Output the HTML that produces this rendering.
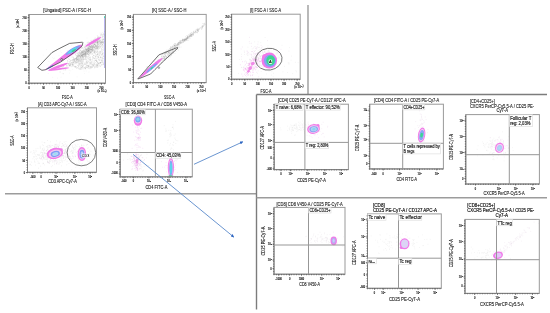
<!DOCTYPE html>
<html><head><meta charset="utf-8"><style>
html,body{margin:0;padding:0;background:#fff;}
body{width:550px;height:313px;overflow:hidden;}
svg{display:block;filter:blur(0.3px);font-family:'Liberation Sans', Arial, sans-serif;}
</style></head><body>
<svg width="550" height="313" viewBox="0 0 550 313">
<line x1="5.00" y1="193.80" x2="256.50" y2="193.80" stroke="#9c9c9c" stroke-width="1.4" />
<line x1="308.00" y1="5.00" x2="308.00" y2="94.50" stroke="#9c9c9c" stroke-width="1.4" />
<line x1="256.50" y1="94.50" x2="547.00" y2="94.50" stroke="#7c7c7c" stroke-width="1.4" />
<line x1="256.50" y1="94.50" x2="256.50" y2="309.50" stroke="#7c7c7c" stroke-width="1.4" />
<line x1="256.50" y1="197.80" x2="547.00" y2="197.80" stroke="#9c9c9c" stroke-width="1.4" />
<defs><filter id="b1" x="-50%" y="-50%" width="200%" height="200%"><feGaussianBlur stdDeviation="0.4"/></filter><filter id="b2" x="-50%" y="-50%" width="200%" height="200%"><feGaussianBlur stdDeviation="1.0"/></filter><filter id="b3" x="-50%" y="-50%" width="200%" height="200%"><feGaussianBlur stdDeviation="2.2"/></filter></defs>
<path d="M86.8 49.5h.01M82.7 64.0h.01M90.2 67.9h.01M88.4 50.5h.01M103.1 39.5h.01M98.8 47.1h.01M78.4 63.7h.01M90.6 49.7h.01M92.2 51.5h.01M78.6 56.4h.01M96.4 60.0h.01M86.4 65.6h.01M94.0 47.1h.01M103.3 41.7h.01M82.5 61.8h.01M95.3 56.1h.01M99.4 47.9h.01M92.7 56.7h.01M88.5 52.4h.01M84.5 58.9h.01M97.4 47.0h.01M81.3 59.1h.01M81.5 65.4h.01M87.3 65.8h.01M97.3 65.2h.01M80.3 65.9h.01M102.4 42.8h.01M80.7 55.8h.01M102.3 59.8h.01M86.1 57.5h.01M100.3 62.6h.01M99.4 63.1h.01M84.2 53.2h.01M97.7 43.1h.01M98.9 59.9h.01M73.2 62.3h.01M86.7 62.5h.01M98.5 63.4h.01M97.3 61.3h.01M76.6 59.8h.01M102.4 52.1h.01M102.3 49.5h.01M90.1 66.4h.01M98.1 53.1h.01M91.2 63.2h.01M100.7 62.6h.01M94.8 53.1h.01M73.6 62.9h.01M79.3 63.2h.01M103.0 50.5h.01M81.9 67.8h.01M100.5 63.4h.01M72.4 64.0h.01M103.3 58.7h.01M80.0 55.3h.01M102.9 58.5h.01M86.5 67.4h.01M83.1 65.5h.01M97.6 44.6h.01M71.8 66.7h.01M88.6 66.5h.01M82.6 66.9h.01M85.6 54.8h.01M93.8 55.5h.01M87.6 62.7h.01M95.6 54.0h.01M87.8 61.9h.01M100.8 52.0h.01M89.7 53.9h.01M85.9 59.8h.01M83.7 54.8h.01M84.7 67.7h.01M92.9 65.6h.01M101.9 46.2h.01M87.7 67.7h.01M98.1 42.3h.01M96.0 66.3h.01M72.7 60.6h.01M81.7 53.3h.01M103.6 64.2h.01M87.5 51.9h.01M90.1 54.1h.01M82.6 66.7h.01M97.3 46.1h.01M88.1 60.1h.01M92.5 51.4h.01M90.5 63.3h.01M70.1 65.0h.01M69.5 65.2h.01M87.5 67.2h.01M95.1 47.1h.01M94.1 55.4h.01M101.6 41.3h.01M97.3 51.6h.01M85.3 64.3h.01M81.5 54.0h.01M79.7 64.2h.01M93.1 58.0h.01M70.1 64.5h.01M99.2 59.1h.01M76.7 68.3h.01M103.0 55.2h.01M84.6 53.8h.01M88.7 54.7h.01M94.8 58.7h.01M93.5 65.7h.01M103.4 42.7h.01M93.8 58.3h.01M68.6 64.3h.01M100.0 57.8h.01M94.2 63.6h.01M85.7 64.3h.01M96.8 64.0h.01M88.6 66.1h.01M92.3 59.8h.01M70.9 64.3h.01M87.7 57.8h.01M90.2 59.4h.01M96.5 61.6h.01M85.6 54.9h.01M94.3 45.9h.01M94.0 44.5h.01M85.3 50.1h.01M84.7 59.5h.01M95.4 57.4h.01M94.5 47.6h.01M91.9 59.8h.01M92.0 47.2h.01M86.1 52.6h.01M100.1 44.3h.01M102.3 42.2h.01M97.3 54.0h.01M99.8 60.2h.01M75.6 66.3h.01M78.7 64.5h.01M98.0 41.8h.01M101.3 60.5h.01M100.4 47.1h.01M104.0 56.6h.01M70.8 64.3h.01M77.6 67.5h.01M80.8 68.1h.01M99.7 63.6h.01M90.3 66.8h.01M101.8 55.3h.01M94.1 52.2h.01M94.8 58.3h.01M101.3 42.0h.01M78.0 61.3h.01M103.1 46.2h.01M91.3 47.5h.01M87.6 50.4h.01M74.7 66.5h.01M88.1 65.9h.01M94.7 51.0h.01M82.3 54.5h.01M102.8 42.0h.01M85.6 57.8h.01M98.9 44.8h.01M81.8 52.0h.01M102.3 64.7h.01M100.1 52.9h.01M81.5 67.2h.01M97.5 64.9h.01M103.0 45.8h.01M86.3 59.5h.01M101.8 60.7h.01M91.0 62.1h.01M83.9 55.4h.01M75.6 67.0h.01M90.9 47.6h.01M90.5 60.0h.01M86.4 56.4h.01M102.5 58.3h.01M99.7 53.0h.01M102.5 60.2h.01M85.4 59.2h.01M91.7 67.1h.01M96.5 61.3h.01M102.9 47.8h.01M97.3 45.3h.01M75.2 62.0h.01M77.9 68.0h.01M91.6 67.9h.01M100.2 65.8h.01M101.5 48.4h.01M91.6 49.9h.01M102.4 41.9h.01M102.7 44.5h.01M80.2 63.9h.01M97.4 51.6h.01M80.8 67.0h.01M82.2 63.6h.01M101.0 46.1h.01M94.6 66.3h.01M102.4 57.4h.01M76.7 60.6h.01M100.9 58.0h.01M82.9 53.5h.01M101.3 43.8h.01M96.7 61.3h.01M97.4 62.3h.01M89.5 48.3h.01M74.3 61.7h.01M79.1 68.9h.01M93.3 52.1h.01M90.0 59.2h.01M94.7 64.7h.01M98.1 47.3h.01M88.0 49.7h.01M94.3 44.3h.01M72.7 65.9h.01M88.4 48.3h.01M81.7 69.3h.01M96.9 58.6h.01M103.7 41.2h.01M84.6 63.8h.01M98.1 66.8h.01M103.0 56.4h.01M101.4 49.7h.01M99.0 52.1h.01M76.6 62.5h.01M102.0 41.3h.01M89.1 57.5h.01M76.4 56.9h.01M96.4 55.3h.01M81.6 55.3h.01M73.1 59.9h.01M78.4 68.0h.01M78.6 55.8h.01M93.9 44.4h.01M82.7 63.8h.01M82.0 65.8h.01M90.7 66.7h.01M80.7 53.9h.01M86.3 67.2h.01M101.3 50.2h.01M100.5 57.5h.01M97.5 43.0h.01M96.1 45.0h.01M82.0 64.7h.01M97.7 43.8h.01M86.2 50.1h.01M93.8 66.3h.01M98.0 41.7h.01M89.2 55.3h.01M90.2 47.6h.01M82.5 56.4h.01M82.8 58.8h.01M83.5 51.8h.01M95.3 62.6h.01M94.1 62.5h.01M85.6 49.9h.01M102.2 42.3h.01M94.1 63.7h.01M85.2 68.1h.01M100.9 43.2h.01M96.2 67.3h.01M100.2 46.7h.01M97.2 42.5h.01M85.6 67.0h.01M92.1 66.2h.01M73.2 62.7h.01M90.5 49.3h.01M99.3 55.5h.01M88.5 65.8h.01M90.3 50.4h.01M96.5 46.3h.01M103.6 56.2h.01M80.3 62.1h.01M97.3 46.0h.01M88.7 58.9h.01M89.8 51.6h.01M86.0 66.2h.01M90.1 53.0h.01M99.2 62.6h.01M87.8 49.0h.01M90.9 52.0h.01M101.7 61.1h.01M76.2 66.5h.01M101.8 42.5h.01M85.8 58.2h.01M97.1 43.5h.01M96.0 60.5h.01M94.6 52.7h.01M94.4 52.3h.01M79.4 61.6h.01M92.7 64.6h.01M93.3 46.4h.01M87.5 51.7h.01M96.2 54.5h.01M76.8 58.2h.01M102.7 44.8h.01M94.5 67.8h.01M94.6 48.3h.01M99.6 48.3h.01M75.8 66.6h.01M90.3 59.8h.01M84.4 64.5h.01M92.8 65.0h.01M83.2 60.8h.01M88.1 47.7h.01M92.6 58.0h.01M92.8 61.2h.01M80.4 63.8h.01M97.3 66.1h.01M69.4 65.3h.01M98.4 63.6h.01M90.5 64.0h.01M90.4 47.1h.01M95.0 44.5h.01M77.5 60.5h.01M102.7 53.9h.01M98.5 57.5h.01M83.1 62.4h.01M79.8 60.2h.01M97.3 43.4h.01M85.2 63.1h.01M79.8 64.2h.01M76.6 67.7h.01M92.9 53.7h.01M70.0 62.8h.01M92.8 62.8h.01M90.2 49.2h.01M99.9 40.7h.01M100.3 53.8h.01M81.0 65.8h.01M86.7 61.8h.01M94.9 58.4h.01M72.7 64.6h.01M91.5 61.4h.01M95.6 56.2h.01M99.7 45.5h.01M93.0 64.6h.01M103.1 61.0h.01M103.4 63.0h.01M94.1 51.7h.01M81.8 62.9h.01M92.7 53.8h.01M90.4 52.6h.01M82.0 61.3h.01M100.6 51.5h.01M88.2 61.6h.01M93.7 65.7h.01M95.6 60.1h.01M98.5 59.4h.01M90.7 52.3h.01M78.6 57.8h.01M95.9 60.5h.01M82.7 52.3h.01M90.0 50.9h.01M92.0 67.3h.01M95.8 50.2h.01M85.1 68.7h.01M73.0 62.6h.01M101.8 54.4h.01M87.0 60.6h.01M86.0 58.1h.01M97.7 54.4h.01M82.2 67.9h.01M74.8 59.6h.01M81.5 62.0h.01M82.6 60.0h.01M75.3 61.4h.01M101.8 54.6h.01M75.1 63.2h.01M71.8 62.5h.01M97.0 58.0h.01M84.4 55.7h.01M80.1 58.1h.01M97.3 63.7h.01M97.8 49.2h.01M98.5 46.4h.01M82.9 58.1h.01M91.4 49.4h.01M101.4 64.9h.01M69.1 64.1h.01M100.5 62.7h.01M72.2 64.2h.01M91.3 45.9h.01M75.6 62.5h.01M100.5 62.9h.01M73.2 66.1h.01M89.5 62.6h.01M91.7 66.2h.01M96.2 64.4h.01M74.3 59.8h.01M86.6 61.4h.01M83.2 65.8h.01M85.2 53.7h.01M87.0 65.2h.01M84.3 55.7h.01M91.6 64.5h.01M102.5 40.4h.01M90.6 58.0h.01M92.3 67.3h.01M79.2 68.9h.01M85.9 53.3h.01M93.6 57.7h.01M79.5 65.1h.01M86.4 62.3h.01M82.6 55.5h.01M97.6 47.2h.01M97.6 50.7h.01M85.7 68.7h.01M91.2 62.9h.01M78.1 56.5h.01M90.5 62.7h.01M99.8 55.2h.01M101.1 57.2h.01M91.3 62.9h.01M100.7 57.3h.01M89.8 57.7h.01M92.8 56.8h.01M91.7 52.4h.01M95.7 66.8h.01M91.3 49.6h.01M97.4 62.8h.01M90.7 67.4h.01M97.0 56.1h.01M101.0 52.1h.01M88.9 67.5h.01M103.3 53.0h.01M70.3 65.4h.01M93.6 45.6h.01M93.4 64.9h.01M90.3 60.3h.01M84.0 67.4h.01M78.5 61.0h.01M73.1 65.1h.01M80.6 56.1h.01M83.2 59.3h.01M72.4 63.1h.01M80.4 58.3h.01M90.3 51.2h.01M81.3 62.8h.01M102.0 62.7h.01M93.0 64.1h.01M79.3 57.1h.01M103.2 64.2h.01M89.2 47.7h.01M82.9 66.0h.01M80.9 59.6h.01M89.3 66.2h.01M96.9 46.9h.01M82.6 56.5h.01M97.2 66.0h.01M68.6 64.2h.01M97.0 65.3h.01M98.5 63.4h.01M92.3 66.8h.01M87.5 63.1h.01M74.4 61.6h.01M101.5 45.4h.01M89.5 59.3h.01M76.4 61.7h.01M96.3 52.5h.01M70.2 63.4h.01M95.6 45.3h.01M88.4 66.3h.01M99.7 54.4h.01M84.6 56.6h.01M73.7 60.1h.01M80.4 55.8h.01M81.9 54.3h.01M103.9 49.8h.01M96.1 42.9h.01M89.1 48.9h.01M99.0 53.3h.01M95.8 51.4h.01M102.0 62.2h.01M87.6 65.4h.01M84.0 67.8h.01M100.7 40.0h.01M89.1 50.5h.01M90.7 68.1h.01M91.8 50.4h.01M100.4 66.5h.01M96.1 60.4h.01M94.9 67.6h.01M92.0 47.4h.01M88.9 61.9h.01M75.2 67.4h.01M99.1 66.0h.01M98.2 57.8h.01M97.5 53.0h.01M93.4 55.4h.01M72.4 65.4h.01M98.1 48.5h.01M78.8 66.4h.01M80.5 69.2h.01M93.9 47.2h.01M103.2 38.5h.01M96.9 48.7h.01M97.8 54.6h.01M100.7 44.9h.01M73.7 62.3h.01M89.5 53.6h.01M89.7 60.3h.01M97.0 56.4h.01M94.1 50.9h.01M97.0 48.6h.01M98.2 65.2h.01M100.7 53.0h.01M99.3 46.4h.01M73.9 64.2h.01M80.7 56.7h.01M83.5 54.2h.01M97.2 65.3h.01M78.9 60.4h.01M81.1 61.7h.01M69.3 65.5h.01M102.3 53.6h.01M86.0 54.7h.01M102.8 45.0h.01M76.3 63.7h.01M88.3 54.5h.01M99.2 60.6h.01M85.3 53.8h.01M88.9 65.1h.01M97.6 67.5h.01M98.1 54.6h.01M81.6 67.7h.01M95.7 48.7h.01M83.1 68.9h.01M96.8 66.8h.01M97.2 64.7h.01M90.4 49.5h.01M83.0 53.9h.01M102.9 62.5h.01M101.7 57.9h.01M96.9 65.9h.01M90.7 46.4h.01M92.1 46.6h.01M87.1 67.1h.01M86.3 51.7h.01M102.2 47.1h.01M78.3 58.4h.01M102.4 54.2h.01M98.1 57.2h.01M88.1 58.5h.01M74.4 60.4h.01M84.1 55.3h.01M89.7 52.8h.01M81.2 56.4h.01M98.9 45.5h.01M87.6 53.5h.01M77.9 62.3h.01M99.2 51.9h.01M83.3 61.2h.01M102.5 61.3h.01M80.0 59.3h.01M89.8 64.8h.01M97.4 54.3h.01M94.3 61.4h.01M95.1 53.0h.01M96.0 60.3h.01M100.8 42.0h.01M95.3 56.5h.01M85.4 68.3h.01M88.2 51.2h.01M96.0 65.5h.01M89.5 50.0h.01M83.7 52.4h.01M93.8 47.2h.01M81.5 55.5h.01M96.1 64.8h.01M85.5 52.0h.01M101.0 48.2h.01M98.2 64.4h.01M102.5 44.4h.01M82.8 66.7h.01M87.9 53.7h.01M101.1 62.4h.01M86.1 54.3h.01M92.4 50.3h.01M80.2 56.7h.01M80.0 67.9h.01M92.0 54.5h.01M81.8 55.7h.01M88.2 65.7h.01M102.7 53.3h.01M83.3 57.7h.01M103.9 48.8h.01M86.6 63.7h.01M103.2 64.0h.01M100.1 59.7h.01M99.9 51.3h.01M85.9 53.9h.01M90.3 57.0h.01M80.1 69.3h.01M82.2 62.8h.01M78.3 59.8h.01M98.2 56.5h.01M85.4 55.4h.01M76.8 58.4h.01M88.3 50.9h.01M86.3 63.9h.01M89.7 63.4h.01M95.5 48.2h.01M93.5 49.1h.01M88.5 49.0h.01M88.6 68.2h.01M83.3 57.5h.01M101.4 64.9h.01M78.6 66.3h.01M97.2 47.6h.01M89.3 68.2h.01M85.3 67.9h.01M93.6 45.0h.01M78.4 65.6h.01M84.9 63.0h.01M102.9 47.2h.01M86.7 50.1h.01M71.6 64.0h.01M91.6 48.8h.01M72.8 60.2h.01M97.9 42.0h.01M83.4 64.3h.01M96.8 43.0h.01M80.1 60.8h.01M80.9 68.2h.01M93.1 46.2h.01M100.3 56.5h.01M99.3 41.9h.01M86.0 55.1h.01M77.0 62.3h.01M81.2 58.7h.01M88.0 47.8h.01M73.6 64.8h.01M78.9 58.9h.01M80.4 53.8h.01M100.6 62.4h.01M99.7 65.1h.01M91.6 49.1h.01M82.3 58.8h.01M92.9 45.8h.01M98.3 49.1h.01M94.2 60.4h.01M98.1 56.0h.01M93.5 46.0h.01M83.1 59.6h.01M97.9 62.5h.01M98.6 57.1h.01M71.1 62.9h.01M74.8 66.8h.01M92.7 50.4h.01M94.7 64.1h.01M102.0 51.4h.01M101.4 59.8h.01" stroke="#8a8a8a" stroke-width="0.5" stroke-linecap="round" fill="none" opacity="0.42"/>
<path d="M83.1 48.2h.01M78.4 54.7h.01M102.1 42.0h.01M77.1 59.4h.01M91.3 47.3h.01M86.8 50.3h.01M79.4 51.2h.01M87.9 54.1h.01M100.4 40.8h.01M79.5 55.6h.01M96.1 45.6h.01M81.9 55.6h.01M85.7 53.4h.01M81.1 50.9h.01M88.6 52.1h.01M76.2 58.2h.01M94.9 44.4h.01M83.5 59.3h.01M96.3 47.4h.01M80.1 60.5h.01M70.4 61.1h.01M95.9 48.6h.01M77.2 56.0h.01M86.3 46.0h.01M93.9 47.8h.01M83.4 55.0h.01M94.8 46.4h.01M94.0 50.4h.01M82.7 54.5h.01M83.4 56.5h.01M83.7 54.6h.01M88.4 50.2h.01M103.2 39.4h.01M101.6 43.1h.01M99.3 41.9h.01M96.8 46.3h.01M81.5 55.6h.01M85.7 51.8h.01M98.4 41.0h.01M68.7 58.9h.01M81.8 52.8h.01M87.9 52.0h.01M104.1 39.9h.01M90.4 46.5h.01M94.3 49.7h.01M97.1 38.4h.01M97.5 48.1h.01M92.8 42.7h.01M84.9 54.1h.01M89.9 46.7h.01M79.8 58.7h.01M76.3 62.6h.01M87.6 51.4h.01M73.6 58.7h.01M91.6 43.6h.01M104.7 34.6h.01M75.5 59.2h.01M92.5 49.2h.01M83.2 53.1h.01M84.0 51.5h.01M63.9 69.9h.01M89.6 49.6h.01M81.4 55.6h.01M86.8 50.9h.01M95.2 40.4h.01M88.0 47.3h.01M86.0 55.9h.01M76.6 58.0h.01M82.7 56.7h.01M75.5 54.3h.01M91.4 46.9h.01M85.4 55.2h.01M78.1 56.2h.01M88.9 50.8h.01M83.5 56.4h.01M101.9 34.7h.01M99.8 41.1h.01M87.8 49.5h.01M79.3 52.8h.01M85.0 56.1h.01M97.3 42.8h.01M81.1 53.2h.01M78.1 62.3h.01M93.4 46.8h.01M81.0 52.3h.01M100.5 43.8h.01M79.3 59.2h.01M77.4 59.5h.01M77.4 56.6h.01M92.2 48.5h.01M95.4 42.7h.01M103.7 43.1h.01M87.5 51.9h.01M79.5 55.9h.01M74.7 59.9h.01M90.7 52.2h.01M97.0 46.3h.01M83.3 53.0h.01M84.1 53.7h.01M69.8 65.2h.01M71.5 60.4h.01M86.5 49.9h.01M102.6 39.8h.01M103.4 42.8h.01M82.8 55.0h.01M98.8 41.8h.01M87.1 49.4h.01M87.1 49.9h.01M89.1 52.3h.01M100.3 42.0h.01M90.0 51.3h.01M82.9 50.9h.01M96.2 41.9h.01M94.5 43.0h.01M102.9 36.9h.01M97.0 48.2h.01M79.9 60.2h.01M76.9 53.1h.01M94.7 47.6h.01M81.7 47.6h.01M86.1 50.8h.01M83.0 53.0h.01M69.4 61.8h.01M82.6 52.0h.01M92.1 50.4h.01M92.3 44.0h.01M88.7 50.2h.01M102.2 43.8h.01M93.6 49.8h.01M85.3 56.5h.01M83.5 54.6h.01M94.5 43.2h.01M78.1 52.3h.01M88.5 49.8h.01M84.6 54.1h.01M67.0 64.9h.01M87.5 49.9h.01M96.8 49.1h.01M81.6 52.2h.01M81.4 55.2h.01M91.4 45.5h.01M95.1 42.5h.01M95.4 46.3h.01M94.2 52.0h.01M84.3 52.4h.01M92.6 49.5h.01M74.7 60.4h.01M80.8 57.1h.01M100.0 42.0h.01M86.2 52.1h.01M60.1 72.0h.01M92.5 47.6h.01M82.3 52.2h.01M86.9 54.5h.01M87.8 54.2h.01M62.1 67.1h.01M89.6 49.2h.01M70.5 60.7h.01M97.1 40.3h.01M76.2 55.5h.01M82.6 55.9h.01M89.9 43.2h.01M100.0 40.2h.01M83.7 58.0h.01M84.6 49.2h.01M80.0 53.9h.01M77.0 57.0h.01M95.7 45.9h.01M77.7 65.4h.01M77.8 57.8h.01M88.3 52.2h.01M84.5 54.0h.01M77.2 58.8h.01M78.9 55.6h.01M89.2 50.4h.01M85.4 54.5h.01M83.5 49.8h.01M94.8 44.5h.01M97.6 41.7h.01M92.8 47.8h.01M59.6 66.0h.01M78.3 61.1h.01M70.4 65.2h.01M98.0 44.7h.01M92.7 45.6h.01M87.2 51.5h.01M91.9 49.6h.01M84.1 51.0h.01M82.2 55.5h.01M69.7 59.6h.01M82.4 52.7h.01M80.9 47.8h.01M83.5 52.8h.01M91.7 42.1h.01M84.7 53.9h.01M93.2 50.0h.01M95.6 42.0h.01M92.6 46.2h.01M81.4 59.2h.01M79.9 53.5h.01M82.0 52.1h.01M97.0 45.1h.01M100.8 42.5h.01M82.6 57.1h.01M80.2 54.5h.01M85.5 52.2h.01M97.5 41.9h.01M90.3 48.6h.01M73.6 57.3h.01M85.5 53.2h.01M90.7 49.8h.01M86.9 49.8h.01M89.7 46.3h.01M73.8 59.3h.01M72.8 59.5h.01M79.2 54.9h.01M85.5 49.8h.01M80.7 50.6h.01M87.2 48.4h.01M87.1 43.0h.01M79.7 56.8h.01M63.4 66.5h.01M88.0 50.6h.01M73.1 61.4h.01M87.1 48.2h.01M94.0 46.0h.01M86.6 50.0h.01M92.3 47.5h.01M98.4 44.3h.01M80.8 54.7h.01M95.2 44.2h.01M91.3 49.4h.01M82.2 47.8h.01M88.5 50.5h.01M87.3 48.7h.01M98.3 42.7h.01M80.1 53.8h.01M89.0 46.5h.01M80.2 61.5h.01M100.9 44.3h.01M100.8 43.0h.01M72.6 64.5h.01M99.4 43.7h.01M70.0 66.4h.01M99.3 41.0h.01M89.2 51.6h.01M87.7 53.7h.01M88.7 51.8h.01M85.8 47.6h.01M81.7 63.7h.01M91.4 51.6h.01M100.1 46.7h.01M91.5 46.2h.01M84.6 47.2h.01M86.4 54.0h.01M66.7 65.8h.01M96.6 48.0h.01M77.3 55.9h.01M67.8 61.6h.01M94.9 51.4h.01M77.9 61.3h.01M90.4 47.2h.01M104.6 31.5h.01M86.6 51.9h.01M98.2 47.0h.01M92.4 48.3h.01M84.7 51.4h.01M77.9 62.9h.01M80.0 50.0h.01M89.5 49.2h.01M91.1 53.3h.01M85.6 51.2h.01M79.8 56.0h.01M83.1 54.3h.01M81.4 60.4h.01M96.4 46.8h.01M94.9 47.8h.01M95.3 49.2h.01M98.4 46.8h.01M82.2 54.4h.01M81.3 57.7h.01M94.3 44.5h.01M96.1 52.1h.01M97.3 40.6h.01M87.0 52.8h.01M87.2 52.0h.01M98.7 43.7h.01M77.5 59.7h.01M86.2 51.9h.01M79.7 52.1h.01M74.6 58.7h.01M73.1 53.0h.01M96.4 41.1h.01M80.8 56.9h.01M65.7 69.7h.01M80.5 57.4h.01M82.8 54.8h.01M88.0 50.3h.01M67.5 60.4h.01M88.5 54.0h.01M82.5 55.7h.01M89.2 50.8h.01M94.5 41.5h.01M89.4 48.8h.01M82.9 51.5h.01M78.1 54.3h.01M79.9 63.2h.01M103.3 39.6h.01M92.8 44.2h.01M57.9 66.2h.01M90.3 52.8h.01M85.3 49.4h.01M83.3 50.7h.01M73.3 59.9h.01M82.1 52.1h.01M77.3 55.2h.01M91.1 52.1h.01M88.0 56.7h.01M71.9 62.4h.01M75.7 58.4h.01M88.7 51.4h.01M97.1 42.4h.01M74.8 59.0h.01M88.9 47.7h.01M97.8 48.2h.01M73.9 61.2h.01M94.2 40.5h.01M88.7 49.2h.01M75.1 63.1h.01M88.4 48.6h.01M92.1 49.3h.01M95.2 46.9h.01M89.3 46.0h.01M83.1 54.1h.01M63.3 73.7h.01M81.9 51.5h.01M69.9 63.7h.01M86.5 49.7h.01M81.8 52.1h.01M79.7 55.8h.01M81.7 56.6h.01M85.8 52.2h.01M92.6 50.7h.01M93.1 47.4h.01M84.4 50.6h.01M84.6 54.6h.01M88.6 48.7h.01M72.2 57.0h.01M91.5 50.8h.01M88.7 45.9h.01M85.3 52.9h.01M78.7 57.8h.01M84.0 50.7h.01M76.2 60.9h.01M89.2 46.9h.01M78.5 59.5h.01M92.3 46.4h.01M101.9 39.8h.01M78.3 60.2h.01M85.7 52.9h.01M86.0 48.8h.01M75.4 58.6h.01M99.1 39.7h.01M100.3 42.3h.01M76.7 59.0h.01M91.2 45.5h.01M67.1 66.0h.01M77.0 59.3h.01M68.5 63.5h.01M77.3 53.6h.01M84.9 52.9h.01M80.1 52.5h.01M86.7 46.2h.01M92.8 48.4h.01M104.2 41.5h.01M90.7 49.1h.01M85.5 48.3h.01M101.7 42.2h.01M82.7 50.7h.01M101.9 42.1h.01M76.6 60.2h.01M90.3 47.5h.01M82.4 57.3h.01M86.9 53.3h.01M85.1 54.4h.01M93.6 43.5h.01M76.7 58.0h.01M95.3 46.0h.01M97.0 40.1h.01M90.9 46.5h.01M88.4 50.9h.01M77.4 57.0h.01M76.3 59.3h.01M78.2 55.7h.01M88.2 48.3h.01M97.1 42.1h.01M95.5 45.9h.01M76.8 57.5h.01M78.5 55.9h.01M86.8 56.3h.01M85.1 56.8h.01M89.5 45.5h.01M65.9 67.7h.01M69.0 65.7h.01M97.3 44.9h.01M84.7 51.9h.01M89.1 48.7h.01M81.4 53.9h.01M97.3 42.0h.01M89.1 46.3h.01M78.4 53.1h.01M86.0 53.6h.01M89.3 48.0h.01M92.4 46.3h.01M90.9 49.0h.01M88.9 42.7h.01M75.6 61.2h.01M89.0 56.0h.01M84.0 51.5h.01M102.0 42.1h.01" stroke="#808080" stroke-width="0.5" stroke-linecap="round" fill="none" opacity="0.5"/>
<path d="M95.1 41.1h.01M90.5 42.2h.01M92.2 41.5h.01M100.9 35.9h.01M97.8 37.7h.01M100.1 33.0h.01M94.7 40.5h.01M89.5 44.9h.01M98.3 40.0h.01M102.8 36.4h.01M94.3 38.9h.01M94.2 39.9h.01M97.4 38.0h.01M103.5 34.3h.01M95.0 41.5h.01M95.2 38.2h.01M98.6 37.6h.01M82.5 47.9h.01M88.5 42.9h.01M99.4 37.9h.01M95.5 43.0h.01M98.4 37.2h.01M97.5 38.4h.01M80.4 46.6h.01M88.1 47.3h.01M94.6 39.9h.01M92.9 42.8h.01M97.3 41.2h.01M102.3 38.1h.01M95.5 40.4h.01M93.0 41.0h.01M84.2 45.8h.01M89.3 42.6h.01M104.2 34.9h.01M104.7 35.6h.01M102.7 36.9h.01M92.5 42.8h.01M93.5 40.2h.01M90.7 45.3h.01M100.9 35.3h.01M98.0 38.8h.01M98.3 37.6h.01M87.5 44.6h.01M102.2 36.9h.01M101.1 38.1h.01M89.4 43.4h.01M98.9 39.2h.01M97.4 39.4h.01M98.2 41.2h.01M81.6 48.1h.01M84.0 46.9h.01M86.1 44.5h.01M98.6 40.4h.01M99.5 38.4h.01M102.9 35.7h.01M90.3 42.8h.01M98.0 37.9h.01M91.4 41.8h.01M85.4 44.4h.01M95.2 39.5h.01M97.2 40.9h.01M98.0 38.3h.01M87.6 43.0h.01M97.9 37.1h.01M98.1 36.6h.01M96.8 38.9h.01M102.3 35.1h.01M93.7 41.2h.01M97.5 41.1h.01M94.0 39.9h.01M94.2 41.3h.01M98.0 39.3h.01M88.5 47.6h.01M88.1 44.5h.01M97.3 35.5h.01M95.1 37.9h.01M99.9 39.2h.01M101.8 33.8h.01M93.9 41.5h.01M95.5 39.0h.01M102.2 32.6h.01M104.7 32.8h.01M101.1 34.1h.01M89.4 42.6h.01M100.4 34.5h.01M99.6 36.4h.01M104.0 34.2h.01M99.1 37.4h.01M97.1 41.7h.01M97.0 39.9h.01M91.3 42.6h.01M81.1 48.6h.01M90.8 40.5h.01M87.4 46.3h.01M97.8 36.2h.01M93.7 41.2h.01M87.5 42.3h.01M91.8 43.7h.01M101.3 34.0h.01M104.0 34.8h.01M99.3 37.6h.01M98.1 36.8h.01M89.5 42.4h.01M94.0 41.6h.01M89.0 46.0h.01M91.4 41.4h.01M100.9 37.2h.01M93.1 39.7h.01M88.4 41.8h.01M104.2 36.1h.01M98.7 39.0h.01M102.1 35.5h.01M99.7 40.4h.01M83.9 44.7h.01M90.1 44.1h.01M103.6 34.4h.01M100.4 36.8h.01M97.6 37.7h.01M95.8 39.6h.01M104.9 37.4h.01M84.4 47.3h.01M96.6 40.6h.01M103.5 36.1h.01M100.7 35.3h.01M85.8 48.1h.01M103.4 33.7h.01M105.0 35.1h.01M80.4 50.2h.01M90.2 44.7h.01M91.0 41.4h.01M85.7 45.4h.01M102.3 34.7h.01M85.1 49.2h.01M91.7 40.3h.01M85.5 46.6h.01M103.9 33.2h.01M95.8 39.2h.01M94.6 41.1h.01M102.3 37.3h.01M94.0 40.5h.01" stroke="#b0b0b0" stroke-width="0.45" stroke-linecap="round" fill="none" opacity="0.4"/>
<path d="M61.0 77.2h.01M63.0 58.7h.01M69.1 53.1h.01M58.5 64.8h.01M88.5 48.4h.01M71.8 45.4h.01M60.7 51.1h.01M73.4 65.3h.01M48.0 65.0h.01M71.0 51.3h.01M85.5 61.9h.01M75.3 53.8h.01M68.7 55.6h.01M71.9 63.3h.01M72.7 69.3h.01M100.0 38.4h.01M79.6 63.9h.01M78.5 53.9h.01M70.8 70.8h.01M81.5 59.6h.01M65.3 70.2h.01M80.5 53.2h.01M89.0 72.0h.01M52.7 77.3h.01M52.4 57.6h.01M71.6 65.7h.01M67.5 50.9h.01M52.7 65.5h.01M68.5 53.7h.01M61.5 64.5h.01M63.0 59.3h.01M71.2 57.5h.01M74.1 46.9h.01M74.5 66.3h.01M88.3 56.2h.01M65.7 48.0h.01M57.5 78.2h.01M82.4 59.7h.01M43.2 55.2h.01M54.5 58.2h.01M69.4 51.2h.01M87.9 44.6h.01M69.2 70.3h.01M71.9 51.0h.01M90.0 69.0h.01M56.5 66.4h.01M50.9 52.6h.01M82.4 61.0h.01M85.3 56.6h.01M48.2 73.5h.01M59.0 55.6h.01M62.3 73.3h.01M77.1 76.9h.01M69.2 42.4h.01M88.0 63.4h.01M67.1 50.6h.01M87.1 38.0h.01M62.7 46.1h.01M49.8 55.7h.01M90.0 61.5h.01M61.3 52.5h.01M72.9 63.3h.01M48.9 61.6h.01M73.9 66.0h.01M74.9 62.9h.01M46.3 49.6h.01M71.7 50.9h.01M68.9 58.0h.01M74.3 50.9h.01M89.2 50.4h.01M81.0 61.2h.01M86.0 56.0h.01M48.5 67.2h.01M96.1 50.9h.01M80.7 59.7h.01M61.4 59.2h.01M69.4 73.2h.01M84.1 71.1h.01M86.2 71.0h.01M72.2 47.8h.01M94.1 50.7h.01M87.1 53.5h.01M68.9 63.5h.01M53.4 58.6h.01M59.1 62.1h.01M55.4 68.5h.01M84.6 73.4h.01M93.7 47.0h.01M81.6 52.2h.01M76.5 57.1h.01" stroke="#b4b4b4" stroke-width="0.45" stroke-linecap="round" fill="none" opacity="0.3"/>
<g filter="url(#b1)" opacity="1">
<polygon points="45.47,70.25 51.37,67.08 59.05,62.57 64.89,59.32 70.62,55.90 75.39,52.65 79.46,49.15 81.57,46.74 82.17,45.25 81.83,44.75 80.22,44.76 77.20,45.85 72.46,48.35 67.69,51.60 62.41,55.68 57.24,59.93 50.24,65.42 45.13,69.75" fill="#f07ae8"/>
<ellipse cx="93.2" cy="41.9" rx="9.4" ry="1.25" fill="#f07ae8" transform="rotate(-30.9 93.2 41.9)" />
<ellipse cx="58.2" cy="66.8" rx="10.5" ry="1.3" fill="#f07ae8" transform="rotate(-21 58.2 66.8)" />
<ellipse cx="58.8" cy="69.1" rx="10.5" ry="0.9" fill="#f07ae8" transform="rotate(-7 58.8 69.1)" />
<ellipse cx="72.75" cy="50.25" rx="8.5" ry="1.9" fill="#86a0f6" transform="rotate(-31 72.75 50.25)" />
<ellipse cx="50" cy="67.3" rx="4" ry="0.65" fill="#5a8ae8" transform="rotate(-31 50 67.3)" />
<ellipse cx="72.55" cy="50.25" rx="5.5" ry="1.2" fill="#58d8ea" transform="rotate(-34.7 72.55 50.25)" />
<ellipse cx="73.8" cy="50.5" rx="2.5" ry="0.8" fill="#3ad88e" transform="rotate(-33 73.8 50.5)" />
</g>
<line x1="104.90" y1="17.00" x2="104.90" y2="68.00" stroke="#8e86e6" stroke-width="1.0" />
<circle cx="104.9" cy="17" r="0.9" fill="#3ad8b0"/>
<path d="M177.6 44.7h.01M166.5 53.0h.01M180.0 41.7h.01M180.0 43.5h.01M176.1 46.2h.01M191.6 36.2h.01M170.9 49.2h.01M190.9 36.7h.01M187.5 38.3h.01M166.1 52.2h.01M203.8 25.5h.01M179.8 41.2h.01M191.8 34.7h.01M180.3 41.1h.01M183.5 41.4h.01M193.6 34.5h.01M194.4 32.5h.01M191.4 34.9h.01M168.8 52.7h.01M188.0 36.0h.01M188.8 36.9h.01M196.8 32.5h.01M147.6 66.6h.01M202.0 26.1h.01M161.7 56.2h.01M188.2 37.4h.01M170.4 49.2h.01M186.7 38.9h.01M175.5 43.5h.01M196.9 30.6h.01M182.2 40.2h.01M192.0 32.4h.01M185.4 39.2h.01M188.3 38.4h.01M182.9 40.9h.01M193.6 31.5h.01M180.5 42.6h.01M195.2 31.2h.01M193.9 33.3h.01M165.2 51.8h.01M166.7 52.5h.01M186.9 38.7h.01M193.7 32.5h.01M197.4 31.3h.01M190.0 36.3h.01M168.6 51.4h.01M170.9 48.1h.01M179.8 43.1h.01M183.2 40.2h.01M172.0 48.8h.01M174.3 45.4h.01M185.9 40.3h.01M178.5 42.7h.01M201.7 29.3h.01M180.3 42.4h.01M188.1 40.3h.01M186.1 39.6h.01M188.4 34.8h.01M170.0 48.7h.01M189.3 36.3h.01M205.6 24.3h.01M187.8 37.4h.01M186.9 40.5h.01M188.2 38.6h.01M199.5 28.3h.01M192.1 33.8h.01M185.4 39.2h.01M184.0 39.5h.01M202.8 26.3h.01M193.4 35.1h.01M192.2 35.3h.01M201.5 28.7h.01M204.2 24.0h.01M162.4 54.7h.01M167.0 52.1h.01M165.3 52.2h.01M187.7 37.5h.01M174.2 46.8h.01M182.8 40.9h.01M183.8 39.9h.01M193.9 31.2h.01M178.1 44.4h.01M178.8 43.1h.01M178.8 44.0h.01M199.1 29.0h.01M180.9 42.6h.01M180.0 40.7h.01M187.1 37.4h.01M177.3 45.4h.01M184.2 39.2h.01M156.5 57.7h.01M184.1 39.8h.01M189.5 36.4h.01M177.5 43.2h.01M170.6 49.4h.01M170.4 50.6h.01M166.9 50.2h.01M180.7 40.4h.01M203.3 25.1h.01M183.2 40.3h.01M173.1 45.8h.01M161.7 56.8h.01M197.6 32.7h.01M166.4 53.1h.01M184.3 40.7h.01M178.1 45.0h.01M195.3 32.6h.01M201.6 27.3h.01M202.5 26.0h.01M202.9 23.5h.01M183.7 39.3h.01M184.6 40.7h.01M192.8 33.8h.01M204.0 24.1h.01M174.8 48.2h.01M186.9 35.6h.01M187.5 36.2h.01M202.6 28.0h.01M178.0 45.7h.01M174.3 47.9h.01M191.0 34.9h.01M166.5 52.2h.01M155.7 59.5h.01M162.0 57.0h.01M170.9 46.6h.01M191.3 35.2h.01M178.9 46.0h.01M193.5 33.3h.01M174.6 43.5h.01M190.4 36.5h.01M176.0 44.1h.01M182.6 39.1h.01M184.5 40.5h.01M202.6 27.0h.01M186.8 38.8h.01M200.9 27.6h.01M168.6 50.1h.01M168.2 50.3h.01M182.7 41.3h.01M185.9 38.7h.01M179.9 43.4h.01M195.2 32.8h.01M202.1 26.7h.01M181.8 43.4h.01M186.7 38.6h.01M180.4 43.6h.01M178.6 42.8h.01M183.0 40.2h.01M194.0 32.5h.01M185.4 38.8h.01M187.8 36.6h.01M196.7 29.3h.01M178.9 42.8h.01M191.9 34.4h.01M189.7 35.5h.01M174.6 45.4h.01M179.6 42.5h.01M187.6 37.8h.01M195.9 31.4h.01M174.3 45.7h.01M184.9 39.7h.01M171.8 50.0h.01M198.6 31.1h.01M184.4 40.8h.01M178.1 44.1h.01M185.2 41.1h.01M181.9 42.6h.01M184.4 38.9h.01M187.3 38.4h.01M175.6 46.7h.01M174.8 45.6h.01M186.6 37.9h.01M171.1 47.4h.01M184.4 40.0h.01M178.5 44.1h.01M165.6 53.6h.01M189.2 36.6h.01M176.6 45.4h.01M186.1 39.7h.01M187.5 37.8h.01M175.6 46.9h.01M198.1 29.4h.01M192.0 34.7h.01M182.8 39.5h.01M204.5 23.3h.01M187.5 37.1h.01M197.8 29.7h.01M184.8 40.1h.01M189.3 35.6h.01M192.5 34.4h.01M195.8 31.0h.01M183.2 40.1h.01M173.9 47.5h.01M189.7 37.5h.01M180.2 43.1h.01M197.9 30.0h.01M184.8 39.5h.01M175.1 45.3h.01M197.7 30.4h.01M182.4 39.7h.01M186.0 39.8h.01M169.5 49.3h.01M198.2 31.4h.01M202.6 26.1h.01M190.9 34.2h.01M190.1 35.2h.01M187.1 39.3h.01M188.0 36.9h.01M184.8 39.7h.01M177.9 44.6h.01M192.1 35.9h.01M158.3 57.0h.01M169.4 51.4h.01M186.1 39.8h.01M154.3 61.0h.01M146.3 67.1h.01M177.6 44.0h.01M187.8 36.6h.01M197.5 30.4h.01M189.9 38.6h.01M179.0 44.6h.01M174.6 48.1h.01M195.8 31.8h.01M196.9 32.6h.01M200.7 28.1h.01M183.9 41.3h.01M165.9 52.3h.01M190.2 36.2h.01M188.2 37.5h.01M167.9 51.2h.01M187.0 37.6h.01M185.0 39.9h.01M172.2 47.8h.01M163.1 56.2h.01M170.4 47.9h.01M193.2 33.2h.01M195.5 31.4h.01M185.9 38.8h.01M181.9 42.4h.01M171.2 49.8h.01M196.1 29.7h.01M175.1 45.2h.01M191.0 35.5h.01M174.6 45.5h.01M191.2 32.6h.01M191.7 34.3h.01M176.9 44.8h.01M180.3 41.9h.01M185.5 40.0h.01M165.7 52.8h.01M202.4 27.7h.01M173.8 46.4h.01M172.9 46.2h.01M197.9 30.2h.01M174.9 45.0h.01M179.1 42.9h.01M204.5 24.9h.01M185.9 39.8h.01M191.9 34.1h.01M158.5 59.7h.01M191.0 34.6h.01M182.4 40.1h.01M172.4 46.6h.01M190.3 36.1h.01M186.5 39.1h.01M190.5 35.5h.01M173.7 48.0h.01M198.6 30.3h.01M198.7 29.0h.01M172.9 49.3h.01M177.1 45.2h.01M181.7 41.6h.01M180.5 41.9h.01M163.6 56.6h.01M185.5 36.9h.01M172.6 46.9h.01M173.8 44.5h.01M191.7 36.3h.01M181.4 42.6h.01M190.6 34.0h.01M197.7 28.4h.01M176.9 44.7h.01M199.1 29.4h.01M182.1 40.5h.01M185.1 39.3h.01M193.5 34.8h.01M192.8 33.7h.01M183.0 42.5h.01M186.4 38.3h.01M190.7 35.1h.01M177.0 46.2h.01M179.1 44.6h.01M174.7 46.8h.01M188.9 36.7h.01M187.0 38.3h.01M170.0 48.8h.01M183.2 42.5h.01M182.0 40.4h.01M176.1 45.6h.01M197.8 29.5h.01M190.8 35.4h.01M179.3 42.4h.01M181.8 40.8h.01M189.5 34.2h.01M197.9 30.9h.01M191.7 36.1h.01M190.3 33.6h.01M184.9 39.9h.01M175.3 45.0h.01M189.4 36.7h.01M178.8 43.4h.01M177.7 43.9h.01M183.9 41.3h.01M164.6 53.4h.01M203.4 26.5h.01M186.3 39.3h.01M171.4 47.7h.01M163.5 53.1h.01M187.4 38.5h.01M178.7 43.1h.01" stroke="#949494" stroke-width="0.5" stroke-linecap="round" fill="none" opacity="0.5"/>
<path d="M170.7 53.5h.01M167.7 51.2h.01M162.8 53.9h.01M168.5 52.5h.01M165.8 59.0h.01M175.5 49.5h.01M169.6 53.5h.01M164.8 56.9h.01M177.5 45.5h.01M164.6 57.5h.01M173.5 51.7h.01M162.7 58.4h.01M165.5 54.2h.01M168.0 53.6h.01M173.3 51.1h.01M163.9 57.9h.01M165.5 55.3h.01M166.3 57.8h.01M164.2 54.3h.01M164.6 58.7h.01M178.6 44.3h.01M165.8 55.6h.01M160.8 60.9h.01M168.0 55.0h.01M179.8 44.8h.01M173.0 52.1h.01M164.1 56.5h.01M177.0 48.8h.01M167.8 52.6h.01M173.2 51.4h.01M181.1 47.0h.01M172.6 51.4h.01M167.8 53.6h.01M169.9 53.5h.01M172.5 53.0h.01M169.2 52.6h.01M173.7 52.9h.01M163.9 58.5h.01M171.4 52.8h.01M170.6 52.3h.01M169.0 56.9h.01M176.0 45.6h.01M154.8 65.6h.01M163.9 56.7h.01M159.8 61.6h.01M167.2 54.1h.01M175.0 53.5h.01M177.0 49.7h.01M166.4 57.0h.01M168.8 56.0h.01M171.1 52.0h.01M170.3 51.4h.01M173.6 52.9h.01M166.6 56.7h.01M159.9 62.6h.01M171.8 49.7h.01M177.4 47.3h.01M157.5 60.2h.01M172.4 50.5h.01M172.5 48.1h.01M168.3 56.0h.01M165.0 58.1h.01M166.4 56.4h.01M171.7 55.7h.01M162.1 60.6h.01M174.0 47.7h.01M170.5 56.8h.01M171.0 46.7h.01M165.2 53.5h.01M169.0 52.4h.01M164.2 55.9h.01M169.2 52.7h.01M163.0 58.0h.01M169.4 51.8h.01M172.5 47.9h.01M169.8 52.3h.01M175.9 47.2h.01M163.2 55.7h.01M179.2 46.9h.01M161.9 58.7h.01M164.2 60.3h.01M168.4 50.4h.01M169.9 54.7h.01M168.4 55.0h.01M167.6 55.2h.01M168.5 52.8h.01M170.0 53.2h.01M167.2 53.9h.01M162.8 59.0h.01M170.3 48.3h.01M166.3 58.3h.01M172.3 49.8h.01M174.4 47.7h.01M165.5 60.0h.01M165.5 56.1h.01M158.3 60.2h.01M161.6 59.3h.01M159.1 63.4h.01M165.5 55.3h.01M165.3 58.0h.01M175.9 47.6h.01M178.1 49.6h.01M175.5 49.2h.01M160.6 61.5h.01M166.0 56.4h.01M157.6 62.1h.01M168.4 52.4h.01M171.1 55.2h.01M168.6 52.7h.01M178.9 42.0h.01M163.4 58.8h.01M162.8 54.3h.01M170.1 54.4h.01M165.1 59.5h.01M171.8 53.8h.01M159.8 60.9h.01M178.4 50.1h.01M175.1 49.0h.01M168.4 53.0h.01M173.3 49.1h.01M166.8 51.6h.01M161.5 62.9h.01M168.5 54.5h.01M156.2 63.7h.01M177.8 44.1h.01M155.1 64.3h.01M165.0 56.5h.01M160.0 58.2h.01M161.9 60.4h.01M168.5 55.6h.01M162.7 59.7h.01M165.7 56.5h.01M173.1 50.6h.01M164.6 54.1h.01M169.1 55.1h.01M164.5 57.1h.01M157.3 60.4h.01M171.3 54.3h.01M164.8 53.9h.01M164.5 54.3h.01M168.3 57.9h.01M169.5 53.1h.01M173.3 49.7h.01M170.0 53.3h.01M169.1 50.9h.01M172.6 52.5h.01M153.2 61.0h.01M164.5 60.0h.01M168.7 55.2h.01M171.8 53.2h.01M164.0 56.5h.01M170.6 53.6h.01M171.4 52.5h.01M166.4 57.8h.01M171.5 53.7h.01M155.1 66.4h.01M155.0 65.1h.01M164.5 57.5h.01M165.1 56.2h.01M169.4 54.1h.01M161.4 54.9h.01M164.3 58.4h.01M163.8 58.6h.01M165.1 55.0h.01M175.9 51.5h.01M167.4 54.9h.01M172.0 48.9h.01M164.3 59.5h.01M172.5 50.1h.01M164.1 58.2h.01M159.9 59.9h.01M164.5 52.6h.01M171.9 52.9h.01M172.5 48.3h.01M160.3 59.0h.01M162.8 62.5h.01M162.4 58.3h.01M169.5 54.2h.01M174.9 47.0h.01M172.9 50.9h.01M161.7 59.7h.01M161.8 62.4h.01M164.9 58.8h.01M174.5 48.2h.01M163.2 58.5h.01M163.1 60.0h.01M168.3 52.9h.01M164.9 58.3h.01M161.6 62.7h.01M163.5 57.6h.01M164.4 60.4h.01M173.7 52.5h.01M171.7 51.8h.01M177.9 48.0h.01M170.9 53.3h.01M172.3 51.7h.01M165.6 53.3h.01M178.1 44.1h.01M155.5 62.9h.01M179.7 47.6h.01" stroke="#a0a0a0" stroke-width="0.45" stroke-linecap="round" fill="none" opacity="0.45"/>
<g filter="url(#b1)" opacity="1">
<polygon points="139.70,78.23 143.61,75.75 148.53,72.13 153.27,68.28 157.73,64.13 160.86,60.75 162.70,58.23 162.30,57.77 159.54,59.25 155.77,61.87 151.03,65.72 146.57,69.87 142.29,74.25 139.30,77.77" fill="#f07ae8"/>
<ellipse cx="151.8" cy="68.0" rx="7.2" ry="1.05" fill="#86a0f6" transform="rotate(-41 151.8 68.0)" />
<ellipse cx="151.5" cy="68.2" rx="3.4" ry="0.7" fill="#58d8ea" transform="rotate(-41 151.5 68.2)" />
<ellipse cx="151.8" cy="68.0" rx="1.4" ry="0.5" fill="#3ad88e" transform="rotate(-41 151.8 68.0)" />
</g>
<path d="M253.8 59.8h.01M257.8 44.2h.01M255.7 60.0h.01M266.2 49.6h.01M242.3 47.0h.01M260.3 58.6h.01M259.0 59.0h.01M255.4 48.5h.01M261.2 60.7h.01M262.0 66.7h.01M249.3 41.7h.01M245.5 72.9h.01M251.6 60.8h.01M257.9 63.1h.01M280.5 54.4h.01M256.8 53.8h.01M259.7 61.6h.01M251.2 67.2h.01M266.0 61.1h.01M257.2 56.3h.01M246.5 62.6h.01M251.2 54.5h.01M265.0 51.6h.01M254.3 64.0h.01M271.0 53.2h.01M265.7 53.4h.01M260.7 61.4h.01M250.0 65.2h.01M270.6 58.4h.01M259.9 49.8h.01M270.5 58.4h.01M249.1 63.4h.01M247.8 53.2h.01M243.1 67.6h.01M273.5 53.6h.01M253.4 54.0h.01M254.0 61.9h.01M268.2 50.9h.01M261.1 45.4h.01M268.7 57.4h.01M253.1 68.7h.01M257.3 67.6h.01M265.5 69.6h.01M252.4 58.4h.01M260.6 56.6h.01M268.7 53.0h.01M265.0 67.5h.01M244.3 51.2h.01M251.7 54.2h.01M260.7 56.8h.01M258.6 54.8h.01M257.4 61.4h.01M263.2 52.5h.01M257.2 52.7h.01M256.8 48.0h.01M264.7 62.7h.01M257.1 53.2h.01M254.8 53.3h.01M247.2 69.4h.01M281.0 49.4h.01M249.8 62.0h.01M262.2 47.0h.01M244.6 61.8h.01M244.1 68.0h.01M254.5 58.6h.01M258.0 54.1h.01M257.0 55.9h.01M266.7 57.4h.01M257.8 54.3h.01M253.6 52.8h.01M258.1 70.9h.01M265.8 59.7h.01M269.7 65.1h.01M259.5 56.8h.01M250.3 59.7h.01M255.8 46.9h.01M249.0 71.6h.01M259.5 61.5h.01M259.4 54.7h.01M261.2 65.6h.01M255.8 61.6h.01M265.2 54.6h.01M259.2 52.8h.01M262.2 55.4h.01M266.0 52.7h.01M269.8 55.8h.01M252.1 51.7h.01M262.6 52.0h.01M270.6 67.0h.01M261.6 48.0h.01M257.8 52.9h.01M245.3 61.0h.01M273.4 54.2h.01M263.7 67.0h.01M251.3 55.6h.01M259.9 61.3h.01M250.0 59.5h.01M257.3 64.7h.01M246.8 54.1h.01M254.5 55.8h.01M263.1 53.6h.01M277.2 53.1h.01M263.9 65.1h.01M264.8 56.6h.01M252.2 56.2h.01M262.7 58.8h.01M262.1 62.0h.01M251.8 51.5h.01M268.1 54.6h.01M246.9 71.0h.01M252.2 51.5h.01M264.8 50.1h.01M251.9 65.3h.01M252.3 75.6h.01M258.7 76.8h.01M258.9 58.4h.01M253.5 56.4h.01M254.5 57.8h.01M263.4 49.1h.01M251.6 43.3h.01M268.5 57.5h.01M257.9 57.6h.01M265.0 60.2h.01M264.0 56.8h.01M257.2 57.6h.01M245.0 65.6h.01M247.0 51.0h.01M262.7 58.4h.01M263.7 69.9h.01M271.0 67.7h.01M256.4 72.3h.01M251.8 57.4h.01M265.0 56.5h.01M257.2 55.5h.01M267.6 40.7h.01M266.9 65.4h.01M257.5 61.9h.01M251.2 65.8h.01M279.4 51.6h.01M267.8 57.6h.01M255.6 54.6h.01M256.7 49.2h.01M248.5 69.6h.01M257.9 61.9h.01M260.2 61.3h.01M247.3 51.4h.01M262.4 65.0h.01M250.0 54.0h.01M250.5 62.6h.01M260.4 58.2h.01M253.5 60.4h.01M258.2 52.8h.01M260.3 53.3h.01M264.7 62.4h.01M253.2 62.1h.01M258.5 53.1h.01M251.6 46.4h.01M250.1 60.4h.01M266.5 53.6h.01M259.1 60.4h.01M263.5 61.1h.01M266.6 63.4h.01M252.7 60.8h.01M241.6 56.7h.01M258.1 62.1h.01M255.9 63.8h.01M267.2 52.1h.01M254.2 59.8h.01M261.4 59.0h.01M263.8 49.7h.01M263.4 66.2h.01M265.8 61.0h.01M256.3 60.8h.01M257.5 46.9h.01M253.8 57.7h.01M254.4 51.5h.01M256.4 55.4h.01M258.5 57.7h.01M259.2 65.0h.01M259.0 60.8h.01M249.4 37.4h.01M255.2 62.7h.01M255.6 53.6h.01M249.3 64.2h.01M254.3 59.7h.01M265.9 61.8h.01M273.7 57.1h.01M264.7 62.9h.01M253.4 58.3h.01M254.0 50.8h.01M260.1 52.6h.01M269.8 52.8h.01M254.2 58.6h.01M254.4 58.4h.01M253.7 48.0h.01M241.1 49.0h.01M268.7 61.1h.01M259.1 54.7h.01M257.0 60.1h.01M248.3 52.4h.01" stroke="#dcaadc" stroke-width="0.55" stroke-linecap="round" fill="none" opacity="0.5"/>
<path d="M245.8 69.4h.01M245.6 68.7h.01M242.8 76.2h.01M251.7 66.0h.01M253.4 72.3h.01M257.8 63.5h.01M250.4 75.2h.01M253.1 63.8h.01M246.0 68.0h.01M252.8 66.6h.01M243.8 70.2h.01M254.6 67.7h.01M259.0 65.1h.01M257.4 63.7h.01M256.8 67.7h.01M256.7 66.8h.01M249.9 71.5h.01M249.1 64.6h.01M247.2 67.8h.01M251.3 63.3h.01M248.1 70.4h.01M249.1 63.8h.01M252.6 63.1h.01M250.2 63.8h.01M257.0 60.1h.01M256.1 61.6h.01M245.5 75.4h.01M249.4 63.8h.01M248.5 69.5h.01M255.8 57.7h.01M246.9 63.5h.01M249.7 70.9h.01M248.6 67.7h.01M245.2 69.2h.01M253.7 63.1h.01M247.5 73.5h.01M253.1 59.2h.01M252.4 59.2h.01M250.8 67.3h.01M251.0 66.5h.01M256.2 67.2h.01M255.0 54.1h.01M254.6 63.7h.01M250.1 67.2h.01M257.8 60.5h.01M249.0 64.4h.01M248.3 70.4h.01M256.5 56.5h.01M260.0 61.7h.01M248.1 65.6h.01M241.8 74.1h.01M251.1 68.7h.01M244.4 74.2h.01M255.6 64.1h.01M260.4 61.6h.01M249.5 66.0h.01M255.1 62.3h.01M252.3 75.2h.01M248.2 65.7h.01M251.4 63.0h.01M254.5 68.5h.01M251.4 66.2h.01M245.1 68.6h.01M246.1 69.9h.01M252.0 63.2h.01M255.7 69.8h.01M251.7 62.5h.01M248.4 74.9h.01M254.9 65.6h.01M250.7 61.0h.01M251.0 66.8h.01M246.4 69.9h.01M251.3 61.2h.01M252.0 69.0h.01M248.1 69.2h.01M243.3 69.9h.01M252.7 78.4h.01M246.7 74.3h.01M248.3 71.6h.01M250.9 66.4h.01M258.5 59.9h.01M246.5 72.6h.01M242.5 61.7h.01M253.7 69.2h.01M248.6 72.1h.01M258.4 58.9h.01M250.1 62.9h.01M253.7 64.5h.01M246.9 72.6h.01M240.3 64.8h.01M253.0 70.3h.01M251.9 66.3h.01M252.3 67.7h.01M247.7 67.7h.01M249.7 64.2h.01M254.3 60.6h.01M253.9 66.9h.01M248.9 63.3h.01M243.9 69.1h.01M247.8 75.2h.01M248.4 67.7h.01M251.7 60.6h.01M250.6 67.5h.01M255.4 66.8h.01M252.4 72.2h.01M250.0 63.5h.01M244.5 71.1h.01M247.9 68.5h.01M255.3 66.8h.01M249.6 66.4h.01M253.4 59.3h.01M248.3 65.4h.01M247.5 73.6h.01M245.3 64.4h.01M245.4 68.4h.01M253.6 67.9h.01M257.3 67.4h.01M253.5 60.7h.01M249.8 65.2h.01M250.3 72.6h.01" stroke="#ec90e6" stroke-width="0.6" stroke-linecap="round" fill="none" opacity="0.6"/>
<path d="M262.3 52.0h.01M261.3 55.3h.01M259.5 55.6h.01M253.9 59.4h.01M258.9 58.2h.01M246.7 61.6h.01M274.0 67.1h.01M258.4 47.5h.01M247.9 47.2h.01M257.1 56.6h.01M241.3 67.3h.01M244.6 52.5h.01M256.0 69.1h.01M291.6 56.1h.01M262.2 55.7h.01M263.2 58.2h.01M264.5 51.4h.01M271.0 54.3h.01M274.0 48.2h.01M295.3 62.3h.01M241.5 67.6h.01M259.5 47.4h.01M272.1 54.4h.01M276.2 54.0h.01M278.5 61.6h.01M271.0 61.7h.01M260.9 56.1h.01M272.3 67.7h.01M289.4 47.6h.01M281.0 59.2h.01M269.2 51.4h.01M288.9 51.1h.01M264.9 52.1h.01M292.7 73.6h.01M247.8 55.1h.01M271.0 55.3h.01M261.1 48.3h.01M269.5 48.2h.01M261.5 77.8h.01M271.2 52.8h.01M261.2 49.6h.01M267.6 67.6h.01M278.9 57.0h.01M249.5 59.2h.01M289.1 63.1h.01M265.1 37.5h.01M260.0 65.9h.01M252.9 74.6h.01M258.2 50.6h.01M258.0 59.0h.01M279.8 53.9h.01M241.4 59.2h.01M273.2 76.7h.01M250.5 76.0h.01M275.3 64.9h.01M255.4 50.5h.01M252.8 70.1h.01M269.0 71.6h.01M291.1 60.2h.01M248.0 55.2h.01M260.9 55.9h.01M268.0 51.0h.01M282.0 45.3h.01M254.8 41.8h.01M246.7 66.4h.01M274.7 57.9h.01M277.6 66.7h.01M258.1 59.6h.01M259.9 64.0h.01M273.5 73.2h.01M271.9 71.6h.01M251.4 57.2h.01M239.3 59.5h.01M298.1 62.7h.01M267.2 62.9h.01M268.0 45.8h.01M256.5 58.2h.01M268.3 50.8h.01M264.5 52.2h.01M247.8 53.0h.01M254.9 69.1h.01M284.4 66.3h.01M263.1 54.1h.01M244.4 54.4h.01M287.5 72.5h.01M269.1 57.4h.01M266.1 64.6h.01M265.9 64.7h.01M255.4 60.6h.01M261.2 71.6h.01M248.9 74.0h.01M264.8 54.7h.01M266.3 61.4h.01M262.8 64.6h.01M258.1 41.9h.01M275.6 59.8h.01M288.9 64.2h.01M238.5 73.4h.01M256.5 66.0h.01M296.5 71.8h.01M251.0 59.1h.01M243.9 67.2h.01M273.7 49.1h.01M272.2 70.1h.01M277.1 52.9h.01M256.5 48.1h.01M248.2 63.5h.01M266.5 74.0h.01M269.8 56.6h.01M246.4 76.6h.01M268.3 59.8h.01M252.2 48.9h.01M274.7 49.7h.01M274.0 66.8h.01M260.8 42.7h.01M271.7 75.1h.01M254.7 46.6h.01M281.0 61.6h.01M257.4 73.2h.01M262.2 64.9h.01M260.5 52.1h.01M269.0 50.9h.01M241.6 54.3h.01M283.0 71.8h.01M295.9 70.7h.01M288.2 62.8h.01M260.0 65.1h.01M253.0 68.0h.01M259.8 62.9h.01M254.3 58.7h.01M279.5 57.8h.01M256.7 63.1h.01M278.1 58.1h.01M249.9 43.5h.01M247.6 71.5h.01M264.8 65.2h.01M280.8 63.1h.01M272.6 54.7h.01M243.9 66.8h.01M264.7 66.2h.01" stroke="#bcbcbc" stroke-width="0.5" stroke-linecap="round" fill="none" opacity="0.4"/>
<g filter="url(#b1)" opacity="1">
<ellipse cx="252.8" cy="63.6" rx="2.0" ry="1.6" fill="#f08ae8" transform="rotate(-40 252.8 63.6)" />
<ellipse cx="250.2" cy="68.2" rx="2.0" ry="1.6" fill="#f08ae8" transform="rotate(-40 250.2 68.2)" />
<ellipse cx="248.5" cy="71.2" rx="1.6" ry="1.2" fill="#f08ae8" transform="rotate(-40 248.5 71.2)" />
<ellipse cx="255.6" cy="59.8" rx="1.3" ry="1.0" fill="#f4a4ee" />
<ellipse cx="269.3" cy="60.6" rx="7.8" ry="8.0" fill="#f07ae8" />
<ellipse cx="265.0" cy="57.5" rx="3.0" ry="3.5" fill="#f07ae8" />
<ellipse cx="269.9" cy="60.9" rx="5.9" ry="6.2" fill="#86a0f6" />
<ellipse cx="270.6" cy="60.5" rx="4.3" ry="5.0" fill="#3ad88e" />
<ellipse cx="270.4" cy="62.2" rx="1.6" ry="1.7" fill="#e8fbef" />
</g>
<path d="M41.5 155.1h.01M76.9 146.3h.01M56.1 160.8h.01M51.4 155.1h.01M29.8 161.6h.01M49.8 161.6h.01M52.7 152.2h.01M58.9 152.1h.01M49.2 163.0h.01M65.5 153.0h.01M64.0 157.1h.01M60.8 153.4h.01M55.2 156.1h.01M60.9 155.0h.01M47.5 154.6h.01M58.6 148.1h.01M54.5 158.1h.01M55.8 152.3h.01M53.4 151.6h.01M65.2 150.5h.01M33.7 150.5h.01M57.7 154.7h.01M47.6 148.0h.01M51.7 149.9h.01M46.4 155.1h.01M45.3 157.0h.01M45.1 152.9h.01M52.4 162.1h.01M73.1 156.4h.01M45.5 155.3h.01M65.2 156.8h.01M35.0 156.5h.01M46.0 159.2h.01M61.0 150.2h.01M78.7 149.1h.01M82.3 149.2h.01M54.4 164.1h.01M47.5 152.5h.01M71.1 151.5h.01M58.7 146.7h.01M75.5 156.3h.01M58.7 157.2h.01M47.9 152.4h.01M36.0 158.6h.01M69.0 156.5h.01M65.2 156.3h.01M42.4 148.8h.01M61.6 153.9h.01M65.3 151.0h.01M44.1 157.8h.01M46.3 146.5h.01M46.3 150.5h.01M40.6 153.0h.01M66.8 164.8h.01M73.8 149.1h.01M67.2 151.8h.01M58.2 149.9h.01M51.9 145.5h.01M74.3 147.2h.01M60.4 150.1h.01M56.3 147.5h.01M50.3 159.4h.01M59.5 143.0h.01M63.0 145.9h.01M57.7 156.3h.01M46.3 153.5h.01M51.4 156.6h.01M65.6 159.7h.01M59.3 163.9h.01M44.3 164.9h.01M51.5 158.5h.01M52.6 154.7h.01M43.6 157.6h.01M77.7 151.5h.01M53.8 154.1h.01M62.2 151.9h.01M54.1 155.2h.01M69.9 156.9h.01M41.3 152.5h.01M54.9 158.4h.01M65.1 151.4h.01M78.6 149.8h.01M71.4 159.2h.01M72.7 152.5h.01M59.6 145.2h.01M32.9 153.8h.01M63.2 158.4h.01M53.6 159.6h.01M61.8 161.0h.01M34.9 152.4h.01M42.1 150.3h.01M72.5 146.6h.01M44.1 153.4h.01M64.0 150.3h.01M63.0 155.7h.01M44.9 142.9h.01M42.4 149.1h.01M72.5 147.7h.01M41.8 157.8h.01M54.0 149.2h.01M67.4 157.0h.01M56.7 149.7h.01M42.4 144.9h.01M58.8 155.5h.01M43.3 155.7h.01M91.4 142.9h.01M34.6 160.0h.01M48.7 152.2h.01M61.2 152.4h.01M66.0 155.1h.01M67.6 152.8h.01M29.9 164.6h.01M35.0 162.3h.01M55.9 146.5h.01M55.4 158.5h.01M42.1 156.0h.01M44.7 150.1h.01M47.7 161.7h.01M62.0 152.8h.01M53.2 154.9h.01M57.5 154.6h.01M34.7 161.6h.01M42.1 142.0h.01M61.3 146.7h.01M52.3 153.8h.01M47.5 157.8h.01M50.6 153.1h.01M42.7 154.2h.01M42.0 156.0h.01M70.2 157.1h.01M58.0 146.3h.01M66.7 157.2h.01M76.4 139.0h.01M54.0 152.3h.01M65.9 146.6h.01M51.3 166.7h.01M64.2 142.1h.01M55.2 161.1h.01M47.2 158.2h.01M54.1 146.3h.01M47.5 161.0h.01M67.4 149.0h.01M66.6 148.5h.01M56.9 153.5h.01M39.7 157.8h.01M47.5 140.5h.01M43.7 151.0h.01M43.5 150.3h.01M44.2 142.5h.01M64.5 153.0h.01M56.8 152.2h.01M54.6 152.6h.01M40.2 147.9h.01M55.6 159.2h.01M57.9 162.0h.01M37.9 154.9h.01M47.7 161.5h.01M73.4 148.5h.01M62.4 151.6h.01M42.3 155.1h.01M43.0 163.8h.01M61.8 159.2h.01M56.4 140.8h.01M63.4 153.2h.01M67.1 161.3h.01M42.6 159.8h.01M57.8 152.6h.01M51.1 157.2h.01M61.2 156.5h.01M48.3 147.8h.01M70.4 158.6h.01M47.4 154.8h.01M62.2 143.5h.01M61.6 165.8h.01M56.7 149.9h.01M77.9 150.7h.01M56.2 151.5h.01M54.8 144.4h.01M37.9 148.4h.01M64.5 152.1h.01M66.0 141.5h.01M48.1 162.6h.01M43.4 145.6h.01M45.0 153.4h.01M54.8 160.8h.01M70.7 159.9h.01M60.4 150.4h.01M47.1 147.1h.01M69.8 158.5h.01M54.4 149.2h.01M62.2 155.5h.01M55.0 147.7h.01M56.4 150.7h.01M63.1 155.9h.01M58.8 151.1h.01M72.4 155.6h.01M69.4 156.3h.01M62.0 155.0h.01M40.2 146.3h.01M43.5 158.8h.01M64.8 153.5h.01M56.4 163.4h.01M48.1 145.4h.01M35.7 154.9h.01M62.7 156.7h.01M52.0 158.6h.01M52.9 150.3h.01M50.1 158.6h.01M64.3 146.6h.01M42.6 156.3h.01M77.9 144.4h.01M39.7 158.2h.01M59.5 150.0h.01M54.1 156.6h.01M33.7 156.7h.01M61.7 157.8h.01M67.5 151.7h.01M38.2 163.4h.01M62.5 149.4h.01M66.8 157.7h.01M50.6 141.9h.01M48.0 150.8h.01M44.2 154.9h.01M41.7 157.8h.01M75.1 144.7h.01M65.7 149.5h.01M60.2 152.4h.01M68.4 148.2h.01M62.0 148.8h.01M56.7 153.6h.01M65.5 144.0h.01M39.3 163.5h.01M59.7 162.2h.01M42.2 156.8h.01M62.3 162.2h.01M53.1 151.8h.01M62.2 152.3h.01M45.9 159.2h.01M31.1 151.8h.01M69.5 149.2h.01M50.5 156.5h.01M67.4 154.9h.01M42.4 152.6h.01M66.1 151.7h.01M47.3 159.6h.01M68.9 163.5h.01M41.0 152.1h.01M46.2 157.0h.01M49.3 160.6h.01M46.3 153.6h.01M60.8 154.1h.01M43.3 163.5h.01M60.3 150.5h.01M55.6 147.9h.01M39.5 154.4h.01M58.3 153.9h.01M44.0 148.0h.01M35.7 165.1h.01M57.7 149.2h.01M68.2 154.9h.01M48.8 151.5h.01M67.5 153.9h.01M73.2 153.2h.01M46.8 151.8h.01M46.0 156.5h.01M57.4 156.8h.01M58.5 147.8h.01M50.9 149.4h.01M58.6 146.3h.01M46.6 150.5h.01M46.7 153.7h.01M71.3 150.2h.01M37.2 154.8h.01M63.1 155.7h.01M58.2 164.0h.01M66.9 152.7h.01M67.1 145.0h.01M51.4 149.7h.01M57.2 162.2h.01M49.4 163.1h.01M43.2 163.1h.01M33.8 152.3h.01M65.5 151.9h.01M55.7 153.7h.01M56.0 152.8h.01M42.5 154.1h.01M54.6 149.1h.01M60.7 162.5h.01M34.6 153.8h.01M50.8 154.6h.01M54.6 150.1h.01M53.6 154.1h.01M54.1 162.2h.01M54.4 146.1h.01M36.3 159.6h.01M49.6 151.3h.01M38.1 154.6h.01M52.4 150.6h.01M50.6 159.2h.01M63.5 155.6h.01M51.0 147.2h.01M64.1 160.6h.01M69.6 158.0h.01M57.5 155.5h.01M54.8 160.6h.01M52.5 165.7h.01M62.7 151.1h.01M52.8 145.6h.01M45.3 153.6h.01M81.7 145.8h.01M64.7 152.9h.01M51.0 157.7h.01M31.7 162.2h.01M76.6 152.4h.01M53.4 154.9h.01M61.3 150.4h.01M55.8 156.4h.01M50.3 156.6h.01M58.4 157.2h.01M42.2 152.8h.01M50.0 161.0h.01M55.7 145.0h.01M40.7 166.2h.01M57.0 146.7h.01M43.6 156.2h.01M71.7 160.2h.01M49.6 153.0h.01M75.4 145.8h.01M72.3 153.2h.01M56.0 160.6h.01M59.0 148.8h.01M36.4 156.6h.01M60.9 160.3h.01M62.3 160.9h.01M63.4 153.8h.01M59.3 155.4h.01M46.7 154.4h.01M55.2 151.4h.01M36.0 148.8h.01M60.2 155.9h.01M54.4 147.7h.01M63.5 150.6h.01M31.2 165.6h.01M38.4 168.2h.01M59.8 150.8h.01M72.1 158.7h.01M55.7 144.6h.01M49.4 153.1h.01M59.2 152.6h.01M56.8 144.9h.01M47.6 162.6h.01M37.9 161.2h.01M81.1 153.7h.01M38.9 162.8h.01M32.9 158.8h.01M50.2 161.1h.01M67.7 153.1h.01M75.4 156.2h.01M47.8 149.6h.01M82.1 147.9h.01M58.7 152.7h.01M47.4 146.3h.01M52.2 153.6h.01M65.0 149.7h.01M35.2 150.9h.01M53.7 155.4h.01M62.1 150.8h.01M60.3 153.9h.01M73.4 151.0h.01M56.1 156.7h.01M67.4 147.2h.01M48.3 153.3h.01M30.4 164.3h.01M66.4 152.4h.01M93.8 155.2h.01M78.5 159.0h.01M63.4 145.1h.01M72.0 153.7h.01M40.2 156.2h.01M63.4 157.9h.01M55.6 151.0h.01M62.3 148.8h.01M53.7 158.1h.01M37.7 158.3h.01M30.7 152.3h.01M39.7 155.5h.01M62.2 152.6h.01M64.6 153.0h.01M52.0 156.9h.01M51.4 155.1h.01M65.6 149.3h.01M66.5 146.3h.01M50.2 145.2h.01M49.1 163.2h.01M59.1 160.1h.01M36.3 151.1h.01M60.0 157.6h.01M62.4 143.9h.01M59.9 152.8h.01M55.7 156.3h.01M49.5 145.6h.01M40.6 148.1h.01M38.7 155.4h.01M68.6 148.1h.01M44.3 149.2h.01M34.1 157.2h.01M48.2 153.5h.01M43.3 158.1h.01M40.5 158.8h.01M46.9 159.2h.01M44.1 157.8h.01M59.0 152.9h.01M73.0 152.3h.01M44.3 159.1h.01M44.1 152.5h.01M54.3 154.9h.01M72.4 142.1h.01M51.9 160.4h.01M52.4 155.9h.01M70.8 145.0h.01" stroke="#b4b4b4" stroke-width="0.5" stroke-linecap="round" fill="none" opacity="0.4"/>
<path d="M55.7 156.0h.01M50.1 146.9h.01M48.4 154.7h.01M57.3 159.9h.01M63.1 145.8h.01M62.5 155.5h.01M65.9 150.9h.01M51.3 154.1h.01M65.8 153.9h.01M66.9 154.4h.01M50.5 149.7h.01M66.7 145.4h.01M52.5 152.1h.01M48.5 151.7h.01M56.3 162.1h.01M54.3 151.1h.01M56.3 156.5h.01M49.3 152.2h.01M43.6 157.3h.01M60.4 158.1h.01M48.1 162.5h.01M60.7 151.1h.01M52.2 152.2h.01M47.2 157.1h.01M50.5 150.8h.01M58.6 152.9h.01M50.9 152.7h.01M52.4 158.6h.01M61.4 149.3h.01M55.5 158.3h.01M54.0 160.1h.01M58.4 155.1h.01M41.4 158.2h.01M57.6 154.9h.01M58.5 154.6h.01M52.1 156.9h.01M54.9 148.9h.01M48.2 154.6h.01M56.1 144.2h.01M41.6 159.0h.01M56.5 163.9h.01M44.5 153.5h.01M51.2 155.7h.01M65.4 157.8h.01M48.8 158.7h.01M46.9 155.3h.01M56.5 155.2h.01M50.3 158.9h.01M54.5 153.0h.01M52.6 149.2h.01M60.1 153.6h.01M59.1 159.7h.01M49.0 152.7h.01M55.5 156.3h.01M54.3 156.8h.01M57.1 145.8h.01M49.3 145.8h.01M52.8 151.7h.01M59.1 153.1h.01M55.3 157.9h.01M58.4 147.7h.01M50.5 154.9h.01M66.4 150.6h.01M54.0 154.2h.01M60.2 151.9h.01M56.8 151.1h.01M50.8 150.5h.01M59.2 150.2h.01M58.9 154.0h.01M60.1 141.8h.01M47.8 149.2h.01M54.3 156.3h.01M73.0 156.5h.01M64.4 153.2h.01M52.7 155.4h.01M40.8 158.7h.01M55.4 155.4h.01M47.4 149.8h.01M50.6 153.4h.01M57.2 151.3h.01M57.7 155.3h.01M47.1 153.7h.01M44.2 152.4h.01M60.7 149.4h.01M67.9 153.2h.01M61.1 152.6h.01M61.4 156.4h.01M55.4 150.9h.01M52.3 161.0h.01M53.5 151.4h.01M49.3 147.2h.01M51.8 154.7h.01M51.3 150.5h.01M58.0 154.4h.01M52.2 154.6h.01M48.9 157.2h.01M48.1 152.6h.01M55.7 151.3h.01M48.4 162.2h.01M64.3 144.8h.01M55.1 148.0h.01M56.4 147.7h.01M59.2 154.5h.01M67.2 156.0h.01M52.4 157.1h.01M51.8 153.0h.01M50.7 146.7h.01M58.0 144.6h.01M53.7 155.2h.01M54.9 146.8h.01M51.0 156.2h.01M63.3 158.1h.01M43.0 156.5h.01M52.2 156.4h.01M43.5 154.1h.01M59.4 149.8h.01M52.0 149.6h.01M61.8 146.8h.01M48.6 152.6h.01M54.0 161.4h.01" stroke="#e0b0e0" stroke-width="0.5" stroke-linecap="round" fill="none" opacity="0.5"/>
<path d="M83.1 149.1h.01M84.3 156.0h.01M83.1 153.6h.01M83.8 147.2h.01M77.3 151.5h.01M77.7 158.1h.01M89.6 161.2h.01M83.7 156.0h.01M79.3 146.4h.01M84.1 145.4h.01M83.2 153.2h.01M84.9 154.3h.01M82.4 150.6h.01M75.3 152.0h.01M84.7 160.1h.01M87.4 148.2h.01M78.3 158.1h.01M80.2 169.0h.01M83.2 145.1h.01M79.8 163.2h.01M74.9 154.9h.01M76.6 163.4h.01M80.3 148.0h.01M75.3 149.8h.01M72.0 151.2h.01M90.5 154.6h.01M81.0 147.2h.01M83.3 151.2h.01M78.7 162.1h.01M83.7 148.8h.01M87.8 153.7h.01M84.0 154.9h.01M86.6 157.6h.01M80.6 158.2h.01M80.5 154.8h.01M88.4 147.8h.01M78.0 151.7h.01M80.0 161.6h.01M75.8 167.4h.01M88.2 151.4h.01M82.7 151.9h.01M84.6 157.9h.01M84.9 158.5h.01M89.6 153.0h.01M84.7 152.9h.01M82.2 155.3h.01M81.8 156.0h.01M78.7 153.1h.01M79.6 147.2h.01M79.2 151.1h.01M81.4 144.9h.01M81.0 147.4h.01M78.8 155.1h.01M86.3 155.7h.01M80.1 151.4h.01M87.2 144.5h.01M86.5 145.2h.01M79.5 154.3h.01M81.1 163.7h.01M83.9 153.7h.01M85.7 154.2h.01M78.8 160.6h.01M87.9 161.5h.01M77.4 165.2h.01M80.4 158.5h.01M86.7 167.9h.01M75.7 148.0h.01M86.6 156.9h.01M80.8 136.9h.01M83.7 152.9h.01M71.8 169.7h.01M72.2 150.7h.01M82.0 155.4h.01M85.0 152.4h.01M78.5 151.9h.01M73.8 147.5h.01M89.7 150.0h.01M81.7 165.1h.01M86.1 154.7h.01M84.9 152.4h.01M78.5 159.9h.01M82.5 163.4h.01M81.0 151.8h.01M83.4 152.9h.01M80.8 148.8h.01M83.0 155.9h.01M89.2 153.8h.01M75.1 156.7h.01M91.0 151.4h.01M78.9 153.0h.01M70.8 152.0h.01M81.3 145.1h.01M84.3 148.9h.01M74.8 149.8h.01M84.5 165.3h.01M86.9 155.1h.01M80.0 152.5h.01M85.8 151.0h.01M83.6 159.7h.01M78.4 150.5h.01M83.8 154.0h.01M81.5 150.9h.01M81.8 164.9h.01M87.3 144.5h.01M82.2 154.5h.01M82.1 145.9h.01M81.5 154.9h.01M79.3 155.8h.01M72.4 145.2h.01M82.4 156.3h.01M81.3 151.3h.01M82.7 160.4h.01M85.5 153.5h.01M80.2 160.2h.01M84.1 159.2h.01M80.9 148.9h.01M82.7 150.3h.01M86.5 159.0h.01M73.4 157.9h.01M87.2 160.1h.01" stroke="#bcbcbc" stroke-width="0.5" stroke-linecap="round" fill="none" opacity="0.4"/>
<g filter="url(#b1)" opacity="1">
<ellipse cx="54.9" cy="153.4" rx="8.3" ry="5.5" fill="#f07ae8" transform="rotate(-14 54.9 153.4)" />
<ellipse cx="60" cy="150.2" rx="2.8" ry="1.8" fill="#f07ae8" transform="rotate(-14 60 150.2)" />
<ellipse cx="55.1" cy="153.6" rx="6.6" ry="4.0" fill="#f5c6f1" transform="rotate(-14 55.1 153.6)" />
<ellipse cx="55.3" cy="153.9" rx="4.7" ry="3.0" fill="#7e9cf4" transform="rotate(-14 55.3 153.9)" />
<ellipse cx="55.3" cy="153.9" rx="3.2" ry="1.8" fill="#b8d2f6" transform="rotate(-14 55.3 153.9)" />
<ellipse cx="55.3" cy="153.9" rx="1.5" ry="0.9" fill="#98e2f2" transform="rotate(-14 55.3 153.9)" />
<ellipse cx="81.9" cy="154.0" rx="4.3" ry="7.0" fill="#f07ae8" />
<ellipse cx="81.9" cy="154.0" rx="3.1" ry="5.6" fill="#f5c6f1" />
<ellipse cx="82.0" cy="154.2" rx="2.5" ry="4.4" fill="#7e9cf4" />
<ellipse cx="82.0" cy="154.2" rx="1.4" ry="3.0" fill="#b8d2f6" />
</g>
<path d="M136.9 130.4h.01M139.7 146.9h.01M137.9 127.8h.01M134.8 140.4h.01M136.2 132.0h.01M138.7 147.2h.01M133.7 132.1h.01M140.4 137.6h.01M137.1 143.6h.01M135.6 127.2h.01M139.8 138.0h.01M139.8 134.4h.01M138.3 145.9h.01M138.5 137.7h.01M137.0 147.6h.01M137.7 125.3h.01M140.5 132.3h.01M138.6 138.0h.01M139.9 140.2h.01M140.2 139.9h.01M136.9 133.5h.01M139.1 130.7h.01M139.6 135.9h.01M136.0 130.3h.01M139.3 138.2h.01M137.3 138.0h.01M137.0 149.8h.01M138.1 134.0h.01M138.2 129.2h.01M135.7 136.6h.01M132.1 148.4h.01M141.7 128.2h.01M138.1 139.9h.01M139.3 126.2h.01M136.6 132.3h.01M137.4 137.6h.01M136.8 145.0h.01M142.8 148.3h.01M140.8 128.5h.01M139.9 138.2h.01M140.3 147.3h.01M138.1 133.6h.01M138.7 138.3h.01M136.3 137.3h.01M138.4 134.4h.01M137.7 138.5h.01M139.9 137.0h.01M132.7 125.1h.01M138.6 137.2h.01M137.8 131.6h.01M137.0 145.3h.01M138.5 137.8h.01M136.8 139.9h.01M140.1 137.8h.01M137.1 127.6h.01M138.0 129.9h.01M135.0 145.7h.01M137.6 126.3h.01M135.6 144.4h.01M138.6 139.9h.01" stroke="#e4a4e4" stroke-width="0.55" stroke-linecap="round" fill="none" opacity="0.55"/>
<path d="M136.1 163.4h.01M139.8 163.4h.01M136.1 154.1h.01M137.5 168.7h.01M137.9 154.8h.01M136.9 167.4h.01M135.1 163.4h.01M139.1 169.0h.01M137.3 164.5h.01M135.7 160.9h.01M135.6 166.9h.01M131.7 162.3h.01M133.7 157.7h.01M133.2 156.5h.01M136.4 161.1h.01M140.4 159.9h.01M137.2 162.7h.01M137.1 168.2h.01M136.8 161.7h.01M136.3 161.0h.01M136.4 165.9h.01M136.5 161.3h.01M136.4 164.7h.01M135.5 165.6h.01M135.3 164.4h.01M140.7 162.1h.01M136.3 155.2h.01M138.1 161.1h.01M138.5 157.8h.01M137.6 169.9h.01M137.4 159.4h.01M133.7 161.0h.01M137.9 163.9h.01M134.1 155.9h.01M134.4 156.0h.01M135.9 162.3h.01M140.7 162.0h.01M139.8 164.9h.01M137.5 165.1h.01M137.8 170.4h.01M132.7 168.9h.01M136.3 167.5h.01M135.8 157.8h.01M135.8 162.6h.01M136.9 157.9h.01M137.7 164.0h.01M134.5 155.5h.01M132.2 159.5h.01M136.5 157.6h.01M135.2 160.3h.01M136.6 163.8h.01M138.3 163.2h.01M138.9 156.2h.01M137.8 162.8h.01M134.2 157.7h.01M137.5 161.4h.01M133.8 158.3h.01M139.8 165.2h.01M136.7 167.7h.01M134.5 160.2h.01M138.6 159.3h.01M134.1 163.9h.01M136.8 154.8h.01M135.9 154.0h.01M142.2 157.6h.01M136.6 157.5h.01M134.3 158.8h.01M137.0 169.7h.01M137.1 168.7h.01M134.2 161.4h.01M144.6 159.8h.01M137.0 157.3h.01M135.2 155.9h.01M138.7 159.0h.01M136.2 161.9h.01M133.8 162.1h.01M136.1 163.2h.01M135.7 161.2h.01M137.6 165.8h.01M135.0 165.8h.01M134.4 160.1h.01M136.8 161.7h.01M131.1 156.2h.01M136.1 165.6h.01M135.0 168.5h.01M132.6 161.4h.01M137.7 161.1h.01M137.1 165.6h.01M134.7 163.9h.01M138.8 159.8h.01" stroke="#e28ae2" stroke-width="0.6" stroke-linecap="round" fill="none" opacity="0.65"/>
<path d="M138.6 154.6h.01M148.8 165.5h.01M130.0 158.7h.01M144.1 166.4h.01M131.5 169.2h.01M133.8 165.7h.01M139.3 157.5h.01M135.7 170.2h.01M139.0 160.5h.01M138.7 174.8h.01M141.1 164.8h.01M137.2 157.2h.01M140.1 156.2h.01M140.9 155.2h.01M136.4 165.6h.01M134.9 161.1h.01M141.7 175.0h.01M127.6 153.9h.01M139.8 168.4h.01M134.2 161.7h.01M142.9 157.9h.01M146.1 166.0h.01M138.4 166.1h.01M140.4 168.3h.01M131.7 156.6h.01M133.8 161.8h.01M133.1 175.1h.01M147.0 154.2h.01M138.4 160.7h.01M132.3 166.6h.01M136.2 174.2h.01M138.8 158.5h.01M123.4 160.2h.01M140.7 155.4h.01M140.9 166.4h.01M127.8 159.5h.01M138.1 167.0h.01M137.3 160.9h.01M134.8 158.7h.01M139.7 158.4h.01M139.1 157.0h.01M138.5 162.0h.01M140.9 164.7h.01M141.1 159.7h.01M136.2 158.9h.01M130.3 160.0h.01M141.9 167.1h.01M132.3 163.4h.01M138.2 163.6h.01M140.2 163.0h.01M146.3 157.9h.01M142.8 171.0h.01M143.3 160.7h.01M139.1 164.8h.01M141.2 169.0h.01M137.2 161.1h.01M140.3 159.9h.01M143.3 170.1h.01M141.6 154.8h.01M136.1 160.5h.01" stroke="#c8b8c8" stroke-width="0.5" stroke-linecap="round" fill="none" opacity="0.5"/>
<path d="M168.8 130.3h.01M172.5 127.2h.01M173.6 142.2h.01M171.3 135.0h.01M173.8 142.3h.01M173.1 127.2h.01M167.2 156.2h.01M170.1 134.8h.01M166.6 130.9h.01M169.8 145.1h.01M164.2 125.6h.01M170.8 133.6h.01M169.7 134.1h.01M167.3 140.4h.01M175.5 139.4h.01M170.4 149.2h.01M173.4 128.9h.01M170.3 132.6h.01M171.9 148.7h.01M169.9 136.7h.01M172.3 127.5h.01M170.6 143.4h.01M175.4 121.4h.01M174.1 135.4h.01M175.8 143.5h.01M177.8 140.7h.01M170.8 130.6h.01M167.8 142.9h.01M173.5 145.2h.01M173.0 124.8h.01M170.8 135.9h.01M172.5 144.8h.01M176.2 140.5h.01M165.9 129.0h.01M165.7 131.2h.01M168.4 140.1h.01M171.3 147.9h.01M175.2 134.0h.01M174.8 138.1h.01M173.4 149.9h.01" stroke="#c8c8c8" stroke-width="0.5" stroke-linecap="round" fill="none" opacity="0.5"/>
<path d="M166.0 165.5h.01M176.6 160.8h.01M171.4 166.9h.01M168.9 157.0h.01M167.8 159.3h.01M174.8 167.7h.01M173.3 157.8h.01M172.5 167.0h.01M174.6 161.0h.01M173.7 175.4h.01M177.6 159.6h.01M166.1 155.9h.01M174.3 170.1h.01M171.9 160.1h.01M170.4 165.2h.01M175.2 169.5h.01M175.8 163.2h.01M171.8 163.7h.01M168.3 164.0h.01M169.4 169.5h.01M169.3 166.5h.01M167.3 157.6h.01M176.1 159.3h.01M177.7 172.4h.01M161.5 161.6h.01M168.9 166.1h.01M169.8 161.9h.01M175.5 165.1h.01M174.3 161.3h.01M167.8 175.1h.01M169.4 158.5h.01M169.8 173.2h.01M169.9 161.1h.01M173.0 172.7h.01M169.7 163.8h.01M169.9 168.8h.01M162.5 167.2h.01M170.7 163.8h.01M168.9 156.7h.01M164.6 167.1h.01M168.0 165.4h.01M169.8 162.5h.01M166.1 162.5h.01M169.3 158.1h.01M166.7 171.9h.01M174.2 166.9h.01M183.3 171.7h.01M175.4 160.4h.01M167.3 158.2h.01M170.3 160.5h.01" stroke="#d8b0d8" stroke-width="0.5" stroke-linecap="round" fill="none" opacity="0.5"/>
<g filter="url(#b1)" opacity="1">
<ellipse cx="138.0" cy="120.6" rx="4.2" ry="5.2" fill="#f07ae8" />
<ellipse cx="137.9" cy="119.8" rx="3.2" ry="3.7" fill="#f5c6f1" />
<ellipse cx="137.9" cy="119.5" rx="2.7" ry="3.0" fill="#7aa8f2" />
<ellipse cx="137.9" cy="119.3" rx="1.6" ry="1.7" fill="#8fd4ee" />
<ellipse cx="137" cy="161" rx="1.2" ry="2.5" fill="#ec9ae6" />
<ellipse cx="170.9" cy="167.6" rx="3.1" ry="9.8" fill="#f07ae8" />
<ellipse cx="170.9" cy="167.9" rx="2.2" ry="8.4" fill="#f5c6f1" />
<ellipse cx="170.9" cy="168.0" rx="1.7" ry="7.6" fill="#86a0f6" />
<ellipse cx="170.9" cy="168.4" rx="1.0" ry="6.0" fill="#58d8ea" />
<ellipse cx="170.6" cy="176.2" rx="2.4" ry="0.9" fill="#3ad88e" />
</g>
<path d="M302.4 124.8h.01M298.6 122.3h.01M297.8 131.1h.01M296.2 128.9h.01M305.6 124.8h.01M289.2 128.2h.01M299.9 127.2h.01M291.3 131.6h.01M290.0 127.2h.01M297.7 130.1h.01M294.9 125.6h.01M311.9 125.5h.01M303.5 127.6h.01M294.7 127.9h.01M296.3 128.9h.01M280.4 127.9h.01M298.5 125.2h.01M295.3 134.9h.01M310.8 129.9h.01M299.6 127.1h.01M307.6 126.7h.01M292.4 130.0h.01M291.3 125.7h.01M308.0 123.3h.01M297.6 128.4h.01M299.8 123.7h.01M296.5 127.0h.01M311.3 130.9h.01M292.8 130.6h.01M302.5 127.7h.01M296.4 127.2h.01M287.4 126.2h.01M304.5 132.2h.01M310.8 126.9h.01M302.3 121.0h.01M296.2 124.3h.01M303.7 123.1h.01M290.8 124.8h.01M300.8 130.5h.01M291.7 133.3h.01M299.1 125.6h.01M300.4 128.0h.01M303.8 129.0h.01M313.2 131.4h.01M293.6 130.3h.01M303.3 125.1h.01M292.9 125.6h.01M281.0 129.9h.01M296.5 131.6h.01M294.2 128.2h.01M303.0 130.8h.01M300.2 125.0h.01M313.3 130.5h.01M307.4 132.7h.01M307.7 129.2h.01M301.3 129.9h.01M287.7 130.4h.01M291.3 129.2h.01M291.1 130.1h.01M294.7 135.3h.01M299.4 129.5h.01M291.8 127.2h.01M297.6 127.2h.01M295.0 125.4h.01M303.3 126.9h.01M292.4 129.1h.01M292.4 127.5h.01M294.5 125.3h.01M296.5 125.6h.01M289.4 129.0h.01M296.0 123.7h.01M295.3 128.5h.01M301.0 129.1h.01M299.8 129.7h.01M294.6 125.7h.01M302.3 126.8h.01M298.1 129.9h.01M304.5 131.6h.01M293.3 126.9h.01M301.9 123.8h.01M289.4 129.8h.01M293.8 125.3h.01M303.6 129.6h.01M304.4 127.0h.01M296.1 127.0h.01M300.1 122.1h.01M293.3 130.1h.01M292.7 127.8h.01M298.9 129.5h.01M294.8 124.7h.01" stroke="#cfcfcf" stroke-width="0.5" stroke-linecap="round" fill="none" opacity="0.45"/>
<path d="M327.8 126.2h.01M323.2 122.2h.01M313.7 128.2h.01M324.2 136.9h.01M318.8 125.1h.01M308.3 126.1h.01M310.0 130.0h.01M308.4 128.0h.01M321.7 134.6h.01M302.1 125.3h.01M310.9 134.0h.01M311.1 136.4h.01M315.2 134.6h.01M308.0 127.8h.01M319.1 131.2h.01M302.0 127.9h.01M314.1 131.5h.01M309.3 135.8h.01M314.0 134.6h.01M315.4 129.3h.01M311.2 124.5h.01M318.2 131.9h.01M318.6 127.5h.01M307.1 127.5h.01M311.2 129.0h.01M318.9 125.5h.01M310.2 131.7h.01M318.4 137.6h.01M316.2 125.7h.01M306.9 125.9h.01M313.5 130.0h.01M312.7 126.6h.01M312.0 128.7h.01M316.6 129.3h.01M308.3 124.5h.01M321.8 128.7h.01M312.0 128.9h.01M319.7 127.8h.01M314.1 128.1h.01M316.5 125.1h.01M314.3 133.0h.01M320.0 131.4h.01M314.8 135.1h.01M317.2 134.4h.01M306.0 124.8h.01M317.8 128.0h.01M310.5 125.3h.01M321.8 124.4h.01M313.7 123.6h.01M312.1 137.7h.01M327.4 127.1h.01M307.1 135.3h.01M308.0 122.1h.01M315.1 124.8h.01M304.5 133.4h.01M308.8 124.9h.01M314.1 128.3h.01M319.7 129.4h.01M322.4 133.4h.01M323.6 133.4h.01" stroke="#e0b8e0" stroke-width="0.5" stroke-linecap="round" fill="none" opacity="0.5"/>
<g filter="url(#b1)" opacity="1">
<ellipse cx="313.5" cy="129.0" rx="6.4" ry="4.9" fill="#f07ae8" transform="rotate(-8 313.5 129.0)" />
<ellipse cx="317.5" cy="126.0" rx="2.2" ry="1.8" fill="#f07ae8" transform="rotate(-30 317.5 126.0)" />
<ellipse cx="313.6" cy="129.1" rx="5.3" ry="3.9" fill="#f5c8f2" transform="rotate(-8 313.6 129.1)" />
<ellipse cx="313.7" cy="129.2" rx="4.3" ry="3.0" fill="#86a6f4" transform="rotate(-8 313.7 129.2)" />
<ellipse cx="313.8" cy="129.2" rx="3.1" ry="2.1" fill="#b6d0f4" transform="rotate(-8 313.8 129.2)" />
<ellipse cx="313.9" cy="129.2" rx="1.7" ry="1.2" fill="#86d8ee" transform="rotate(-8 313.9 129.2)" />
</g>
<path d="M421.7 132.2h.01M421.6 116.0h.01M418.7 133.8h.01M415.7 121.6h.01M418.4 127.5h.01M419.0 129.9h.01M421.1 124.4h.01M419.5 110.8h.01M421.7 118.0h.01M420.8 130.9h.01M424.1 133.5h.01M425.2 117.0h.01M423.2 140.2h.01M422.5 119.4h.01M422.5 124.0h.01M420.0 136.3h.01M421.1 119.4h.01M419.9 143.2h.01M419.5 133.2h.01M422.0 137.1h.01M420.9 120.7h.01M420.0 120.1h.01M427.9 129.5h.01M420.8 137.8h.01M423.1 126.6h.01M423.1 130.1h.01M424.3 140.8h.01M420.8 127.7h.01M421.1 137.5h.01M422.5 134.1h.01M423.7 123.1h.01M421.9 138.7h.01M423.8 134.3h.01M420.9 125.2h.01M419.4 125.9h.01M421.4 116.9h.01M424.4 122.1h.01M422.2 132.7h.01M420.2 114.0h.01M423.9 131.2h.01M420.9 136.8h.01M423.7 120.6h.01M421.3 114.4h.01M420.9 138.9h.01M419.5 134.4h.01M417.9 125.7h.01M423.8 141.3h.01M422.6 133.9h.01M425.7 109.1h.01M417.4 142.6h.01M427.6 132.6h.01M421.7 130.0h.01M421.6 123.3h.01M421.5 127.1h.01M423.2 133.3h.01M423.9 132.6h.01M419.2 138.8h.01M415.0 128.9h.01M422.3 123.9h.01M426.1 119.6h.01" stroke="#d8b8d8" stroke-width="0.5" stroke-linecap="round" fill="none" opacity="0.5"/>
<g filter="url(#b1)" opacity="1">
<ellipse cx="421.6" cy="135.0" rx="3.6" ry="7.5" fill="#f07ae8" transform="rotate(10 421.6 135.0)" />
<ellipse cx="421.6" cy="135.0" rx="2.7" ry="6.3" fill="#f5c8f2" transform="rotate(10 421.6 135.0)" />
<ellipse cx="421.6" cy="135.1" rx="2.2" ry="5.2" fill="#8aa6f4" transform="rotate(10 421.6 135.1)" />
<ellipse cx="421.6" cy="135.2" rx="1.3" ry="2.4" fill="#3ad88e" transform="rotate(10 421.6 135.2)" />
</g>
<path d="M485.0 144.6h.01M497.4 150.9h.01M495.0 150.2h.01M488.7 144.1h.01M495.2 140.5h.01M495.6 145.1h.01M499.5 142.1h.01M490.0 144.3h.01M491.3 142.2h.01M492.1 140.5h.01M498.3 150.3h.01M494.0 146.1h.01M487.2 142.4h.01M492.4 142.6h.01M485.0 147.8h.01M494.0 145.1h.01M487.8 146.8h.01M488.7 144.9h.01M495.6 150.5h.01M500.0 144.1h.01M503.5 141.4h.01M492.8 153.3h.01M512.6 147.6h.01M491.3 145.2h.01M484.7 146.3h.01M490.8 143.4h.01M503.4 143.3h.01M507.3 151.1h.01M499.1 144.2h.01M490.2 137.4h.01M496.3 145.7h.01M497.1 143.8h.01M497.9 139.8h.01M477.2 149.3h.01M502.5 131.8h.01M504.1 145.3h.01M492.9 139.6h.01M486.4 150.4h.01M488.4 146.8h.01M492.9 156.6h.01M501.0 140.6h.01M490.4 141.5h.01M483.4 143.7h.01M502.7 147.2h.01M499.3 146.4h.01M490.9 147.4h.01M493.5 156.3h.01M508.0 148.8h.01M498.8 137.4h.01M493.2 158.6h.01M487.9 150.9h.01M503.6 145.1h.01M492.4 144.8h.01M500.3 147.1h.01M505.7 152.7h.01M494.0 159.6h.01M491.7 144.1h.01M492.3 142.8h.01M490.9 146.7h.01M501.0 139.4h.01M483.3 143.3h.01M491.8 149.2h.01M488.0 154.3h.01M490.0 146.0h.01M494.5 152.7h.01M496.4 147.1h.01M489.9 147.8h.01M497.2 145.3h.01M493.9 138.1h.01M490.0 152.7h.01M505.1 146.7h.01M477.4 155.9h.01M492.8 159.4h.01M490.9 151.9h.01M489.3 153.7h.01M503.0 141.9h.01M504.1 160.9h.01M492.4 141.1h.01M496.2 145.1h.01M482.5 141.9h.01M496.0 139.6h.01M502.4 149.2h.01M492.7 153.8h.01M487.0 150.3h.01M483.6 145.4h.01M499.0 144.4h.01M493.2 150.2h.01M505.8 153.3h.01M497.6 145.7h.01M482.9 155.3h.01M508.5 136.6h.01M500.8 146.8h.01M499.5 148.5h.01M492.6 147.0h.01M493.8 152.7h.01M492.1 144.4h.01M499.1 150.1h.01M497.4 148.4h.01M505.4 152.4h.01M495.7 146.0h.01M499.2 137.9h.01M490.1 143.6h.01M495.4 145.1h.01M513.1 150.6h.01M497.2 157.9h.01M494.1 145.5h.01M503.6 151.0h.01M501.2 152.9h.01M491.3 143.8h.01M488.5 147.5h.01M501.8 141.9h.01M490.0 140.5h.01M509.5 150.9h.01M495.8 141.1h.01M486.2 143.9h.01M494.3 140.8h.01M492.3 152.9h.01M494.2 147.5h.01M478.0 145.7h.01M493.0 143.6h.01" stroke="#cccccc" stroke-width="0.5" stroke-linecap="round" fill="none" opacity="0.45"/>
<path d="M492.4 146.7h.01M494.1 144.3h.01M491.4 146.5h.01M503.4 142.9h.01M500.6 139.6h.01M501.8 149.6h.01M497.2 151.3h.01M494.8 147.2h.01M507.1 146.9h.01M493.6 152.6h.01M501.6 145.7h.01M490.3 137.8h.01M491.7 154.2h.01M500.5 142.9h.01M504.6 154.1h.01M495.0 149.4h.01M491.1 148.8h.01M507.8 140.1h.01M499.3 143.9h.01M498.6 147.4h.01M500.4 151.3h.01M501.5 152.1h.01M503.9 152.4h.01M495.8 149.0h.01M497.3 142.9h.01M508.4 148.4h.01M499.3 136.7h.01M497.9 150.8h.01M498.1 144.3h.01M506.1 145.5h.01M497.4 146.5h.01M497.9 152.1h.01M501.8 146.7h.01M497.3 145.9h.01M507.2 145.5h.01M502.2 139.3h.01M500.6 150.4h.01M505.1 148.5h.01M501.8 148.6h.01M504.2 157.0h.01M500.0 143.0h.01M501.9 146.5h.01M502.1 150.8h.01M499.8 144.9h.01M500.5 140.9h.01M500.4 142.7h.01M501.2 147.6h.01M498.0 141.1h.01M499.3 143.7h.01M498.4 150.4h.01M503.6 140.7h.01M503.5 153.6h.01M504.4 148.4h.01M498.6 155.5h.01M497.5 139.6h.01M499.5 148.4h.01M494.1 141.1h.01M508.5 147.6h.01M502.8 144.2h.01M491.8 146.1h.01" stroke="#e6b6e6" stroke-width="0.5" stroke-linecap="round" fill="none" opacity="0.5"/>
<g filter="url(#b1)" opacity="1">
<ellipse cx="499.5" cy="147.8" rx="4.4" ry="5.1" fill="#f07ae8" transform="rotate(15 499.5 147.8)" />
<ellipse cx="499.5" cy="147.9" rx="3.3" ry="4.0" fill="#f6d2f4" transform="rotate(15 499.5 147.9)" />
<ellipse cx="499.5" cy="148.0" rx="2.5" ry="3.1" fill="#b4c8f6" transform="rotate(15 499.5 148.0)" />
<ellipse cx="499.5" cy="148.0" rx="1.2" ry="1.6" fill="#a8e0f0" transform="rotate(15 499.5 148.0)" />
</g>
<path d="M335.3 237.0h.01M311.4 238.5h.01M322.9 239.0h.01M317.1 238.1h.01M320.9 241.6h.01M326.2 241.6h.01M324.7 232.8h.01M310.1 240.6h.01M331.8 241.6h.01M324.5 233.8h.01M321.3 240.2h.01M335.6 238.0h.01M320.8 236.7h.01M332.9 241.5h.01M311.1 242.6h.01M318.0 234.7h.01M312.9 236.9h.01M342.8 246.5h.01M315.6 237.0h.01M326.3 240.2h.01M321.4 234.4h.01M321.9 237.0h.01M311.4 239.4h.01M313.9 233.9h.01M336.7 241.8h.01M336.2 239.3h.01M321.9 238.7h.01M314.6 241.2h.01M327.2 238.1h.01M310.8 238.7h.01M337.5 243.2h.01M331.8 238.0h.01M326.1 240.6h.01M326.6 242.1h.01M320.0 232.2h.01M306.5 236.3h.01M314.5 240.9h.01M333.3 239.0h.01M329.2 239.2h.01M326.4 237.6h.01M322.0 242.5h.01M323.0 238.9h.01M334.2 241.9h.01M322.1 239.7h.01M317.3 239.4h.01M327.5 239.0h.01M326.3 240.1h.01M305.7 236.6h.01M325.7 237.6h.01M317.7 238.3h.01M337.4 238.3h.01M320.1 237.6h.01M316.0 240.4h.01M317.5 241.7h.01M332.1 240.7h.01M333.0 238.8h.01M311.6 238.8h.01M330.0 234.5h.01M315.7 242.2h.01M328.5 243.0h.01M330.2 239.2h.01M328.4 241.5h.01M324.9 238.4h.01M327.5 238.1h.01M343.6 236.8h.01M313.5 235.2h.01M333.1 237.8h.01M326.3 238.4h.01M327.2 234.7h.01M325.8 237.3h.01M333.4 240.8h.01M315.4 236.2h.01M329.5 242.5h.01M331.0 238.6h.01M333.6 232.1h.01M321.0 236.1h.01M317.2 240.7h.01M327.2 239.8h.01M324.1 240.8h.01M331.1 237.3h.01" stroke="#d4c4d4" stroke-width="0.5" stroke-linecap="round" fill="none" opacity="0.45"/>
<g filter="url(#b1)" opacity="1">
<ellipse cx="333.7" cy="240.8" rx="3.2" ry="4.4" fill="#f07ae8" />
<ellipse cx="333.7" cy="240.8" rx="2.0" ry="3.0" fill="#b8b0f2" />
<ellipse cx="333.7" cy="240.6" rx="1.0" ry="1.6" fill="#c8d0f6" />
</g>
<path d="M409.0 238.4h.01M418.5 236.9h.01M394.8 237.8h.01M398.6 247.2h.01M389.5 249.0h.01M414.5 243.5h.01M391.4 245.5h.01M409.3 241.8h.01M426.9 239.4h.01M382.8 241.2h.01M404.9 248.7h.01M377.8 242.6h.01M412.8 239.4h.01M392.9 237.3h.01M407.0 245.3h.01M405.0 243.0h.01M409.7 241.5h.01M406.5 245.2h.01M413.2 244.0h.01M399.1 244.8h.01M380.2 235.1h.01M416.9 242.5h.01M385.9 239.7h.01M396.4 242.3h.01M389.3 245.9h.01M378.3 253.0h.01M385.6 248.5h.01M405.9 235.4h.01M383.9 242.2h.01M401.3 240.3h.01M398.3 242.6h.01M384.8 242.2h.01M424.7 239.5h.01M386.3 244.6h.01M413.9 246.1h.01M390.8 241.7h.01M400.5 241.2h.01M402.8 246.3h.01M404.6 242.0h.01M395.8 249.0h.01M383.8 249.9h.01M406.8 242.3h.01M389.4 249.2h.01M412.4 245.6h.01M422.6 234.9h.01M399.3 240.8h.01M389.6 242.3h.01M404.5 244.1h.01M396.5 236.8h.01M404.7 244.4h.01M423.1 245.7h.01M398.4 237.5h.01M430.2 239.3h.01M400.5 245.0h.01M404.1 247.2h.01M386.0 239.3h.01M400.2 237.1h.01M390.9 247.5h.01M401.6 241.6h.01M391.4 242.2h.01M397.8 237.7h.01M407.5 237.0h.01M413.3 240.7h.01M371.2 235.9h.01M401.6 238.6h.01M419.5 247.5h.01M423.0 245.5h.01M414.1 239.6h.01M413.6 240.3h.01M397.6 236.6h.01M398.8 243.6h.01M397.4 237.6h.01M408.9 245.6h.01M397.1 245.1h.01M409.9 238.1h.01M397.7 234.6h.01M385.9 243.7h.01M387.7 243.6h.01M402.5 233.8h.01M392.4 248.0h.01M398.3 242.5h.01M389.8 235.6h.01M379.2 253.4h.01M396.0 238.5h.01M399.5 234.3h.01M414.8 248.8h.01M389.2 243.3h.01M387.4 245.4h.01M388.1 241.4h.01M413.7 244.1h.01M394.3 236.0h.01M379.1 246.8h.01M404.3 242.2h.01M413.2 242.6h.01M389.5 241.6h.01M397.0 241.9h.01M428.0 244.3h.01M401.4 241.0h.01M390.0 238.0h.01M375.7 240.2h.01M380.0 234.6h.01M386.9 233.9h.01M414.6 247.0h.01M386.6 250.2h.01M406.1 231.9h.01M398.4 238.0h.01M377.3 241.0h.01M412.0 243.8h.01M380.6 239.4h.01M389.0 246.6h.01" stroke="#cccccc" stroke-width="0.5" stroke-linecap="round" fill="none" opacity="0.45"/>
<g filter="url(#b1)" opacity="1">
<ellipse cx="404.6" cy="243.8" rx="4.9" ry="5.5" fill="#f07ae8" />
<ellipse cx="401.5" cy="247.5" rx="1.8" ry="1.5" fill="#f07ae8" />
<ellipse cx="404.7" cy="243.7" rx="3.6" ry="4.2" fill="#dcd4f6" />
</g>
<path d="M510.2 242.7h.01M500.6 249.0h.01M503.9 251.5h.01M491.8 260.3h.01M511.6 244.8h.01M500.7 254.2h.01M530.8 231.4h.01M494.6 257.5h.01M510.0 244.9h.01M502.3 252.7h.01M538.6 223.4h.01M501.3 250.9h.01M520.1 236.5h.01M505.0 251.1h.01M518.6 239.3h.01M511.4 245.9h.01M506.1 245.9h.01M510.8 241.5h.01M526.2 232.4h.01M494.2 258.3h.01M520.9 234.9h.01M516.0 238.5h.01M511.3 243.5h.01M516.4 237.5h.01M500.2 253.5h.01M507.1 248.1h.01M505.5 246.1h.01M520.3 236.6h.01M519.6 236.0h.01M509.3 247.5h.01M495.4 260.1h.01M517.6 238.2h.01M513.6 242.8h.01M504.0 250.2h.01M500.1 249.6h.01M514.3 241.2h.01M519.5 237.7h.01M520.3 237.5h.01M501.8 253.8h.01M499.1 255.1h.01M522.8 235.8h.01M527.3 227.6h.01M516.5 240.0h.01M524.7 230.7h.01M512.0 242.3h.01M510.2 244.3h.01M508.8 242.4h.01M511.7 243.4h.01M504.7 242.6h.01M504.0 248.5h.01M504.1 252.6h.01M521.9 234.4h.01M521.5 241.1h.01M502.0 252.2h.01M506.9 250.0h.01M523.9 232.8h.01M517.9 236.6h.01M495.7 258.2h.01M529.4 227.8h.01M504.7 245.8h.01M534.1 222.2h.01M501.4 251.5h.01M525.2 232.1h.01M511.8 243.2h.01M521.2 235.3h.01M513.7 241.5h.01M501.3 254.5h.01M503.4 247.8h.01M507.3 247.0h.01M519.5 234.0h.01M498.5 254.6h.01M515.2 238.3h.01M500.0 253.4h.01M509.0 242.5h.01M503.9 252.5h.01M501.6 253.7h.01M496.9 258.4h.01M528.7 227.8h.01M505.2 249.8h.01M499.1 254.8h.01M525.4 232.2h.01M515.4 239.9h.01M522.1 233.0h.01M529.2 228.6h.01M507.0 244.2h.01M507.5 247.2h.01M524.0 230.0h.01M510.0 243.4h.01M499.1 253.8h.01M504.6 250.8h.01" stroke="#dcc8dc" stroke-width="0.5" stroke-linecap="round" fill="none" opacity="0.5"/>
<path d="M466.3 257.2h.01M472.7 249.1h.01M492.2 254.0h.01M489.0 252.1h.01M479.6 252.8h.01M487.6 252.5h.01M484.6 252.4h.01M489.9 251.6h.01M471.3 247.1h.01M487.9 255.3h.01M495.7 252.8h.01M478.8 250.5h.01M494.1 253.1h.01M495.9 254.8h.01M485.8 249.4h.01M482.6 257.4h.01M483.1 257.0h.01M474.8 258.1h.01M510.4 258.4h.01M490.6 251.3h.01M483.8 253.0h.01M489.5 248.9h.01M481.1 257.4h.01M489.2 257.2h.01M494.9 251.6h.01M477.2 256.4h.01M488.3 255.2h.01M481.5 258.1h.01M492.0 258.4h.01M485.2 257.1h.01M487.5 252.2h.01M487.4 250.0h.01M486.6 255.5h.01M493.6 251.8h.01M477.3 252.8h.01M471.4 253.0h.01M509.0 255.4h.01M481.9 253.0h.01M502.2 251.5h.01M487.1 254.8h.01M482.1 252.8h.01M474.5 252.5h.01M498.4 259.3h.01M485.7 257.1h.01M491.7 255.3h.01M486.9 258.7h.01M492.6 254.3h.01M486.1 257.8h.01M483.2 252.8h.01M485.8 253.5h.01M498.1 256.1h.01M487.3 253.4h.01M499.4 256.3h.01M504.7 257.7h.01M486.3 253.3h.01M485.7 255.5h.01M494.3 256.5h.01M500.6 250.4h.01M488.2 250.7h.01M479.7 253.2h.01" stroke="#d0d0d0" stroke-width="0.5" stroke-linecap="round" fill="none" opacity="0.45"/>
<g filter="url(#b1)" opacity="1">
<ellipse cx="498.0" cy="255.3" rx="5.0" ry="3.7" fill="#f07ae8" transform="rotate(-15 498.0 255.3)" />
<ellipse cx="498.2" cy="255.3" rx="3.4" ry="2.3" fill="#e4c4fa" transform="rotate(-15 498.2 255.3)" />
</g>
<rect x="29.00" y="14.50" width="76.50" height="68.70" fill="none" stroke="#999999" stroke-width="1.0" />
<line x1="29.00" y1="14.50" x2="29.00" y2="83.20" stroke="#808080" stroke-width="1.0" />
<line x1="29.00" y1="83.20" x2="105.50" y2="83.20" stroke="#808080" stroke-width="1.0" />
<rect x="133.40" y="14.40" width="72.80" height="68.20" fill="none" stroke="#999999" stroke-width="1.0" />
<line x1="133.40" y1="14.40" x2="133.40" y2="82.60" stroke="#808080" stroke-width="1.0" />
<line x1="133.40" y1="82.60" x2="206.20" y2="82.60" stroke="#808080" stroke-width="1.0" />
<rect x="231.60" y="14.20" width="68.60" height="65.00" fill="none" stroke="#999999" stroke-width="1.0" />
<line x1="231.60" y1="14.20" x2="231.60" y2="79.20" stroke="#808080" stroke-width="1.0" />
<line x1="231.60" y1="79.20" x2="300.20" y2="79.20" stroke="#808080" stroke-width="1.0" />
<rect x="27.50" y="107.80" width="69.00" height="64.50" fill="none" stroke="#999999" stroke-width="1.0" />
<line x1="27.50" y1="107.80" x2="27.50" y2="172.30" stroke="#808080" stroke-width="1.0" />
<line x1="27.50" y1="172.30" x2="96.50" y2="172.30" stroke="#808080" stroke-width="1.0" />
<rect x="120.20" y="109.20" width="72.10" height="67.60" fill="none" stroke="#999999" stroke-width="1.0" />
<line x1="120.20" y1="109.20" x2="120.20" y2="176.80" stroke="#808080" stroke-width="1.0" />
<line x1="120.20" y1="176.80" x2="192.30" y2="176.80" stroke="#808080" stroke-width="1.0" />
<rect x="274.20" y="104.20" width="74.20" height="65.40" fill="none" stroke="#999999" stroke-width="1.0" />
<line x1="274.20" y1="104.20" x2="274.20" y2="169.60" stroke="#808080" stroke-width="1.0" />
<line x1="274.20" y1="169.60" x2="348.40" y2="169.60" stroke="#808080" stroke-width="1.0" />
<rect x="369.70" y="104.20" width="73.70" height="64.70" fill="none" stroke="#999999" stroke-width="1.0" />
<line x1="369.70" y1="104.20" x2="369.70" y2="168.90" stroke="#808080" stroke-width="1.0" />
<line x1="369.70" y1="168.90" x2="443.40" y2="168.90" stroke="#808080" stroke-width="1.0" />
<rect x="465.80" y="114.60" width="73.60" height="69.40" fill="none" stroke="#999999" stroke-width="1.0" />
<line x1="465.80" y1="114.60" x2="465.80" y2="184.00" stroke="#808080" stroke-width="1.0" />
<line x1="465.80" y1="184.00" x2="539.40" y2="184.00" stroke="#808080" stroke-width="1.0" />
<rect x="274.00" y="207.40" width="71.00" height="66.80" fill="none" stroke="#999999" stroke-width="1.0" />
<line x1="274.00" y1="207.40" x2="274.00" y2="274.20" stroke="#808080" stroke-width="1.0" />
<line x1="274.00" y1="274.20" x2="345.00" y2="274.20" stroke="#808080" stroke-width="1.0" />
<rect x="367.50" y="213.90" width="73.80" height="74.40" fill="none" stroke="#999999" stroke-width="1.0" />
<line x1="367.50" y1="213.90" x2="367.50" y2="288.30" stroke="#808080" stroke-width="1.0" />
<line x1="367.50" y1="288.30" x2="441.30" y2="288.30" stroke="#808080" stroke-width="1.0" />
<rect x="465.00" y="219.40" width="74.30" height="74.00" fill="none" stroke="#999999" stroke-width="1.0" />
<line x1="465.00" y1="219.40" x2="465.00" y2="293.40" stroke="#808080" stroke-width="1.0" />
<line x1="465.00" y1="293.40" x2="539.30" y2="293.40" stroke="#808080" stroke-width="1.0" />
<polygon points="37.7,67.5 51.9,52.6 58.0,49.2 69.6,43.4 82.5,42.2 82.9,42.6 82.1,45.9 74.6,52.1 66.3,58.0 60.5,62.1 45.2,69.8 41.9,70.3" fill="none" stroke="#4a4a4a" stroke-width="0.8" />
<polygon points="137.8,78.9 158.9,54.9 177.6,47.4 178.0,48.0 164.0,60.6 155.0,69.5 150.6,74.0 139.1,78.6" fill="none" stroke="#4a4a4a" stroke-width="0.8" />
<ellipse cx="268.8" cy="59.2" rx="13.3" ry="10.9" fill="none" stroke="#555" stroke-width="0.75" transform="rotate(-8 268.8 59.2)"/>
<ellipse cx="81.4" cy="152.6" rx="14.3" ry="13.2" fill="none" stroke="#555" stroke-width="0.75"/>
<line x1="155.40" y1="109.20" x2="155.40" y2="176.80" stroke="#979797" stroke-width="1.0" />
<line x1="120.20" y1="152.50" x2="192.30" y2="152.50" stroke="#979797" stroke-width="1.0" />
<line x1="304.90" y1="104.20" x2="304.90" y2="169.60" stroke="#979797" stroke-width="1.0" />
<line x1="274.20" y1="142.40" x2="348.40" y2="142.40" stroke="#979797" stroke-width="1.0" />
<line x1="402.70" y1="104.20" x2="402.70" y2="168.90" stroke="#979797" stroke-width="1.0" />
<line x1="369.70" y1="143.30" x2="443.40" y2="143.30" stroke="#979797" stroke-width="1.0" />
<line x1="509.30" y1="114.60" x2="509.30" y2="184.00" stroke="#979797" stroke-width="1.0" />
<line x1="465.80" y1="154.70" x2="539.40" y2="154.70" stroke="#979797" stroke-width="1.0" />
<line x1="308.50" y1="207.40" x2="308.50" y2="274.20" stroke="#979797" stroke-width="1.0" />
<line x1="274.00" y1="245.00" x2="345.00" y2="245.00" stroke="#979797" stroke-width="1.0" />
<line x1="398.50" y1="213.90" x2="398.50" y2="288.30" stroke="#979797" stroke-width="1.0" />
<line x1="367.50" y1="258.20" x2="441.30" y2="258.20" stroke="#979797" stroke-width="1.0" />
<line x1="496.50" y1="219.40" x2="496.50" y2="293.40" stroke="#979797" stroke-width="1.0" />
<line x1="465.00" y1="259.70" x2="539.30" y2="259.70" stroke="#979797" stroke-width="1.0" />
<rect x="120.40" y="109.40" width="24.80" height="5.40" fill="#fff" stroke="#dadada" stroke-width="0.6" />
<text x="121.10000000000001" y="113.52" font-size="4.5" text-anchor="start" fill="#1a1a1a" stroke="#1a1a1a" stroke-width="0.16" textLength="23.6" lengthAdjust="spacingAndGlyphs" >CD8: 36,80%</text>
<rect x="155.60" y="152.70" width="25.20" height="5.50" fill="#fff" stroke="#dadada" stroke-width="0.6" />
<text x="156.29999999999998" y="156.82" font-size="4.5" text-anchor="start" fill="#1a1a1a" stroke="#1a1a1a" stroke-width="0.16" textLength="24.2" lengthAdjust="spacingAndGlyphs" >CD4: 45,03%</text>
<rect x="275.10" y="104.40" width="27.90" height="5.80" fill="#fff" stroke="#dadada" stroke-width="0.6" />
<text x="275.8" y="108.92" font-size="4.5" text-anchor="start" fill="#1a1a1a" stroke="#1a1a1a" stroke-width="0.16" textLength="26" lengthAdjust="spacingAndGlyphs" >T naive: 6,68%</text>
<rect x="305.10" y="104.40" width="35.10" height="5.70" fill="#fff" stroke="#dadada" stroke-width="0.6" />
<text x="305.8" y="108.92" font-size="4.5" text-anchor="start" fill="#1a1a1a" stroke="#1a1a1a" stroke-width="0.16" textLength="34" lengthAdjust="spacingAndGlyphs" >T effector: 90,52%</text>
<rect x="305.10" y="142.60" width="23.60" height="5.70" fill="#fff" stroke="#dadada" stroke-width="0.6" />
<text x="305.8" y="146.92" font-size="4.5" text-anchor="start" fill="#1a1a1a" stroke="#1a1a1a" stroke-width="0.16" textLength="22.6" lengthAdjust="spacingAndGlyphs" >T reg: 2,80%</text>
<rect x="402.90" y="104.40" width="21.50" height="5.50" fill="#fff" stroke="#dadada" stroke-width="0.6" />
<text x="403.59999999999997" y="108.92" font-size="4.5" text-anchor="start" fill="#1a1a1a" stroke="#1a1a1a" stroke-width="0.16" textLength="20.8" lengthAdjust="spacingAndGlyphs" >CD4+CD25+</text>
<rect x="402.90" y="143.50" width="37.80" height="10.40" fill="#fff" stroke="#dadada" stroke-width="0.6" />
<text x="403.59999999999997" y="148.22" font-size="4.5" text-anchor="start" fill="#1a1a1a" stroke="#1a1a1a" stroke-width="0.16" textLength="36.3" lengthAdjust="spacingAndGlyphs" >T cells repressed by</text>
<text x="403.59999999999997" y="152.62" font-size="4.5" text-anchor="start" fill="#1a1a1a" stroke="#1a1a1a" stroke-width="0.16" textLength="10.8" lengthAdjust="spacingAndGlyphs" >B regs</text>
<rect x="509.50" y="114.80" width="23.20" height="11.70" fill="#fff" stroke="#dadada" stroke-width="0.6" />
<text x="510.2" y="119.79" font-size="4.7" text-anchor="start" fill="#1a1a1a" stroke="#1a1a1a" stroke-width="0.16" textLength="21.1" lengthAdjust="spacingAndGlyphs" >Follicular T</text>
<text x="510.2" y="124.99" font-size="4.7" text-anchor="start" fill="#1a1a1a" stroke="#1a1a1a" stroke-width="0.16" textLength="20.3" lengthAdjust="spacingAndGlyphs" >reg: 2,03%</text>
<rect x="308.70" y="207.60" width="22.30" height="5.40" fill="#fff" stroke="#dadada" stroke-width="0.6" />
<text x="309.4" y="212.12" font-size="4.5" text-anchor="start" fill="#1a1a1a" stroke="#1a1a1a" stroke-width="0.16" textLength="21" lengthAdjust="spacingAndGlyphs" >CD8+CD25+</text>
<rect x="367.70" y="214.10" width="18.30" height="6.10" fill="#fff" stroke="#dadada" stroke-width="0.6" />
<text x="368.4" y="219.06" font-size="4.9" text-anchor="start" fill="#1a1a1a" stroke="#1a1a1a" stroke-width="0.16" textLength="16.8" lengthAdjust="spacingAndGlyphs" >Tc naive</text>
<rect x="398.70" y="214.10" width="23.10" height="6.10" fill="#fff" stroke="#dadada" stroke-width="0.6" />
<text x="399.4" y="219.06" font-size="4.9" text-anchor="start" fill="#1a1a1a" stroke="#1a1a1a" stroke-width="0.16" textLength="22.4" lengthAdjust="spacingAndGlyphs" >Tc effector</text>
<rect x="367.70" y="258.40" width="8.70" height="5.40" fill="#fff" stroke="#dadada" stroke-width="0.6" />
<text x="368.4" y="262.81" font-size="4.2" text-anchor="start" fill="#1a1a1a" stroke="#1a1a1a" stroke-width="0.16" textLength="6.5" lengthAdjust="spacingAndGlyphs" >Ni--</text>
<rect x="398.70" y="258.40" width="13.10" height="6.20" fill="#fff" stroke="#dadada" stroke-width="0.6" />
<text x="399.4" y="263.43" font-size="4.8" text-anchor="start" fill="#1a1a1a" stroke="#1a1a1a" stroke-width="0.16" textLength="12" lengthAdjust="spacingAndGlyphs" >Tc reg</text>
<rect x="496.70" y="219.60" width="16.00" height="6.20" fill="#fff" stroke="#dadada" stroke-width="0.6" />
<text x="497.4" y="224.63" font-size="4.8" text-anchor="start" fill="#1a1a1a" stroke="#1a1a1a" stroke-width="0.16" textLength="14.5" lengthAdjust="spacingAndGlyphs" >TTc reg</text>
<rect x="268.7" y="59.6" width="3.4" height="4.2" rx="1" fill="#f4fff8" opacity="0.85"/>
<text x="270.4" y="63.14" font-size="4.0" text-anchor="middle" fill="#000" stroke="#000" stroke-width="0.1" >A</text>
<rect x="81.6" y="153.4" width="7.6" height="4.4" rx="1" fill="#fff" opacity="0.75" filter="url(#b1)"/>
<text x="81.8" y="157.11" font-size="4.2" text-anchor="start" fill="#000" stroke="#000" stroke-width="0.04" textLength="7.4" lengthAdjust="spacingAndGlyphs" >CD3</text>
<circle cx="61.7" cy="59.4" r="0.9" fill="#fff" stroke="#333" stroke-width="0.6"/>
<circle cx="158.9" cy="67.7" r="0.8" fill="none" stroke="#555" stroke-width="0.5"/>
<defs><marker id="ah" markerWidth="3.4" markerHeight="3.2" refX="2.6" refY="1.6" orient="auto" markerUnits="userSpaceOnUse"><path d="M0,0 L3.4,1.6 L0,3.2 z" fill="#2e66c2"/></marker></defs>
<line x1="194" y1="164.3" x2="242.6" y2="141.9" stroke="#4f82c8" stroke-width="0.85" marker-end="url(#ah)"/>
<line x1="133" y1="154.3" x2="233.6" y2="236.9" stroke="#4f82c8" stroke-width="0.85" marker-end="url(#ah)"/>
<text x="43.3" y="12.13" font-size="4.8" text-anchor="start" fill="#222" stroke="#222" stroke-width="0.12" textLength="47.7" lengthAdjust="spacingAndGlyphs" >[Ungated] FSC-A / FSC-H</text>
<text x="152.1" y="12.33" font-size="4.8" text-anchor="start" fill="#222" stroke="#222" stroke-width="0.12" textLength="34.3" lengthAdjust="spacingAndGlyphs" >[K] SSC-A / SSC-H</text>
<text x="250.2" y="12.03" font-size="4.8" text-anchor="start" fill="#222" stroke="#222" stroke-width="0.12" textLength="31" lengthAdjust="spacingAndGlyphs" >[I] FSC-A / SSC-A</text>
<text x="37.9" y="105.83" font-size="4.8" text-anchor="start" fill="#222" stroke="#222" stroke-width="0.12" textLength="48.7" lengthAdjust="spacingAndGlyphs" >[A] CD3 APC-Cy7-A / SSC-A</text>
<text x="125.5" y="106.13" font-size="4.8" text-anchor="start" fill="#222" stroke="#222" stroke-width="0.12" textLength="61.5" lengthAdjust="spacingAndGlyphs" >[CD3] CD4 FITC-A / CD8 V450-A</text>
<text x="278" y="102.13" font-size="4.8" text-anchor="start" fill="#222" stroke="#222" stroke-width="0.12" textLength="67.6" lengthAdjust="spacingAndGlyphs" >[CD4] CD25 PE-Cy7-A / CD127 APC-A</text>
<text x="374" y="102.13" font-size="4.8" text-anchor="start" fill="#222" stroke="#222" stroke-width="0.12" textLength="65.2" lengthAdjust="spacingAndGlyphs" >[CD4] CD4 FITC-A / CD25 PE-Cy7-A</text>
<text x="469.9" y="102.83" font-size="4.8" text-anchor="start" fill="#222" stroke="#222" stroke-width="0.12" textLength="25" lengthAdjust="spacingAndGlyphs" >[CD4+CD25+]</text>
<text x="469.9" y="107.63" font-size="4.8" text-anchor="start" fill="#222" stroke="#222" stroke-width="0.12" textLength="64.3" lengthAdjust="spacingAndGlyphs" >CXCR5 PerCP-Cy5.5-A / CD25 PE-</text>
<text x="496.4" y="112.33" font-size="4.8" text-anchor="start" fill="#222" stroke="#222" stroke-width="0.12" textLength="11.6" lengthAdjust="spacingAndGlyphs" >Cy7-A</text>
<text x="276.5" y="205.83" font-size="4.8" text-anchor="start" fill="#222" stroke="#222" stroke-width="0.12" textLength="66.2" lengthAdjust="spacingAndGlyphs" >[CD8] CD8 V450-A / CD25 PE-Cy7-A</text>
<text x="372.9" y="206.67" font-size="5.2" text-anchor="start" fill="#222" stroke="#222" stroke-width="0.2" textLength="11.9" lengthAdjust="spacingAndGlyphs" >[CD8]</text>
<text x="372.9" y="212.07" font-size="5.2" text-anchor="start" fill="#222" stroke="#222" stroke-width="0.2" textLength="64" lengthAdjust="spacingAndGlyphs" >CD25 PE-Cy7-A / CD127 APC-A</text>
<text x="467.3" y="206.67" font-size="5.2" text-anchor="start" fill="#222" stroke="#222" stroke-width="0.2" textLength="27.6" lengthAdjust="spacingAndGlyphs" >[CD8+CD25+]</text>
<text x="467.3" y="211.97" font-size="5.2" text-anchor="start" fill="#222" stroke="#222" stroke-width="0.2" textLength="66.9" lengthAdjust="spacingAndGlyphs" >CXCR5 PerCP-Cy5.5-A / CD25 PE-</text>
<text x="495.6" y="217.27" font-size="5.2" text-anchor="start" fill="#222" stroke="#222" stroke-width="0.2" textLength="12.4" lengthAdjust="spacingAndGlyphs" >Cy7-A</text>
<text x="67.2" y="99.06" font-size="4.6" text-anchor="middle" fill="#222" stroke="#222" stroke-width="0.12" textLength="11" lengthAdjust="spacingAndGlyphs" >FSC-A</text>
<text x="11.9" y="50.26" font-size="4.6" text-anchor="middle" fill="#222" stroke="#222" stroke-width="0.12" textLength="11" lengthAdjust="spacingAndGlyphs" transform="rotate(-90 11.9 48.6)" >FSC-H</text>
<text x="169.3" y="99.06" font-size="4.6" text-anchor="middle" fill="#222" stroke="#222" stroke-width="0.12" textLength="10.5" lengthAdjust="spacingAndGlyphs" >SSC-A</text>
<text x="115.7" y="51.66" font-size="4.6" text-anchor="middle" fill="#222" stroke="#222" stroke-width="0.12" textLength="11" lengthAdjust="spacingAndGlyphs" transform="rotate(-90 115.7 50)" >SSC-H</text>
<text x="266" y="92.96" font-size="4.6" text-anchor="middle" fill="#222" stroke="#222" stroke-width="0.12" textLength="11" lengthAdjust="spacingAndGlyphs" >FSC-A</text>
<text x="214.6" y="47.96" font-size="4.6" text-anchor="middle" fill="#222" stroke="#222" stroke-width="0.12" textLength="10.5" lengthAdjust="spacingAndGlyphs" transform="rotate(-90 214.6 46.3)" >SSC-A</text>
<text x="62.5" y="183.26" font-size="4.6" text-anchor="middle" fill="#222" stroke="#222" stroke-width="0.12" textLength="28.6" lengthAdjust="spacingAndGlyphs" >CD3 APC-Cy7-A</text>
<text x="11.9" y="142.26" font-size="4.6" text-anchor="middle" fill="#222" stroke="#222" stroke-width="0.12" textLength="10.5" lengthAdjust="spacingAndGlyphs" transform="rotate(-90 11.9 140.6)" >SSC-A</text>
<text x="156.4" y="189.26" font-size="4.6" text-anchor="middle" fill="#222" stroke="#222" stroke-width="0.12" textLength="21.9" lengthAdjust="spacingAndGlyphs" >CD4 FITC-A</text>
<text x="105.7" y="139.26" font-size="4.6" text-anchor="middle" fill="#222" stroke="#222" stroke-width="0.12" textLength="19.5" lengthAdjust="spacingAndGlyphs" transform="rotate(-90 105.7 137.6)" >CD8 V450-A</text>
<text x="311.5" y="181.86" font-size="4.6" text-anchor="middle" fill="#222" stroke="#222" stroke-width="0.12" textLength="28.7" lengthAdjust="spacingAndGlyphs" >CD25 PE-Cy7-A</text>
<text x="262.4" y="139.46" font-size="4.6" text-anchor="middle" fill="#222" stroke="#222" stroke-width="0.12" textLength="23.5" lengthAdjust="spacingAndGlyphs" transform="rotate(-90 262.4 137.8)" >CD127 APC-A</text>
<text x="406.8" y="180.76" font-size="4.6" text-anchor="middle" fill="#222" stroke="#222" stroke-width="0.12" textLength="20.5" lengthAdjust="spacingAndGlyphs" >CD4 FITC-A</text>
<text x="357.2" y="139.66" font-size="4.6" text-anchor="middle" fill="#222" stroke="#222" stroke-width="0.12" textLength="26.3" lengthAdjust="spacingAndGlyphs" transform="rotate(-90 357.2 138)" >CD25 PE-Cy7-A</text>
<text x="504" y="195.26" font-size="4.6" text-anchor="middle" fill="#222" stroke="#222" stroke-width="0.12" textLength="41" lengthAdjust="spacingAndGlyphs" >CXCR5 PerCP-Cy5.5-A</text>
<text x="451.5" y="148.66" font-size="4.6" text-anchor="middle" fill="#222" stroke="#222" stroke-width="0.12" textLength="26" lengthAdjust="spacingAndGlyphs" transform="rotate(-90 451.5 147)" >CD25 PE-Cy7-A</text>
<text x="309.6" y="286.16" font-size="4.6" text-anchor="middle" fill="#222" stroke="#222" stroke-width="0.12" textLength="20.5" lengthAdjust="spacingAndGlyphs" >CD8 V450-A</text>
<text x="263.6" y="242.66" font-size="4.6" text-anchor="middle" fill="#222" stroke="#222" stroke-width="0.12" textLength="29" lengthAdjust="spacingAndGlyphs" transform="rotate(-90 263.6 241)" >CD25 PE-Cy7-A</text>
<text x="404.5" y="300.50" font-size="5" text-anchor="middle" fill="#222" stroke="#222" stroke-width="0.12" textLength="31" lengthAdjust="spacingAndGlyphs" >CD25 PE-Cy7-A</text>
<text x="354" y="254.60" font-size="5" text-anchor="middle" fill="#222" stroke="#222" stroke-width="0.12" textLength="24.5" lengthAdjust="spacingAndGlyphs" transform="rotate(-90 354 252.8)" >CD127 APC-A</text>
<text x="501.9" y="306.20" font-size="5" text-anchor="middle" fill="#222" stroke="#222" stroke-width="0.12" textLength="44" lengthAdjust="spacingAndGlyphs" >CXCR5 PerCP-Cy5.5-A</text>
<text x="451.5" y="255.10" font-size="5" text-anchor="middle" fill="#222" stroke="#222" stroke-width="0.12" textLength="28" lengthAdjust="spacingAndGlyphs" transform="rotate(-90 451.5 253.3)" >CD25 PE-Cy7-A</text>
<line x1="28.6" y1="83.60000000000001" x2="105.5" y2="83.60000000000001" stroke="#666" stroke-width="1.1" stroke-dasharray="0.8 2.10"/>
<line x1="28.6" y1="83.60000000000001" x2="28.6" y2="14.5" stroke="#666" stroke-width="1.1" stroke-dasharray="0.8 1.82"/>
<line x1="29.10" y1="83.20" x2="29.10" y2="84.70" stroke="#555" stroke-width="0.8" />
<text x="29.1" y="88.82" font-size="3.1" text-anchor="middle" fill="#111" stroke="#111" stroke-width="0.17" textLength="1.38" lengthAdjust="spacingAndGlyphs" >0</text>
<line x1="43.56" y1="83.20" x2="43.56" y2="84.70" stroke="#555" stroke-width="0.8" />
<text x="43.56" y="88.82" font-size="3.1" text-anchor="middle" fill="#111" stroke="#111" stroke-width="0.17" textLength="2.76" lengthAdjust="spacingAndGlyphs" >50</text>
<line x1="58.02" y1="83.20" x2="58.02" y2="84.70" stroke="#555" stroke-width="0.8" />
<text x="58.02000000000001" y="88.82" font-size="3.1" text-anchor="middle" fill="#111" stroke="#111" stroke-width="0.17" textLength="4.14" lengthAdjust="spacingAndGlyphs" >100</text>
<line x1="72.48" y1="83.20" x2="72.48" y2="84.70" stroke="#555" stroke-width="0.8" />
<text x="72.48000000000002" y="88.82" font-size="3.1" text-anchor="middle" fill="#111" stroke="#111" stroke-width="0.17" textLength="4.14" lengthAdjust="spacingAndGlyphs" >150</text>
<line x1="86.94" y1="83.20" x2="86.94" y2="84.70" stroke="#555" stroke-width="0.8" />
<text x="86.94000000000001" y="88.82" font-size="3.1" text-anchor="middle" fill="#111" stroke="#111" stroke-width="0.17" textLength="4.14" lengthAdjust="spacingAndGlyphs" >200</text>
<line x1="101.40" y1="83.20" x2="101.40" y2="84.70" stroke="#555" stroke-width="0.8" />
<text x="101.4" y="88.82" font-size="3.1" text-anchor="middle" fill="#111" stroke="#111" stroke-width="0.17" textLength="4.14" lengthAdjust="spacingAndGlyphs" >250</text>
<line x1="27.50" y1="83.30" x2="29.00" y2="83.30" stroke="#555" stroke-width="0.8" />
<text x="26.7" y="84.42" font-size="3.1" text-anchor="end" fill="#111" stroke="#111" stroke-width="0.17" textLength="1.38" lengthAdjust="spacingAndGlyphs" >0</text>
<line x1="27.50" y1="70.18" x2="29.00" y2="70.18" stroke="#555" stroke-width="0.8" />
<text x="26.7" y="71.30" font-size="3.1" text-anchor="end" fill="#111" stroke="#111" stroke-width="0.17" textLength="2.76" lengthAdjust="spacingAndGlyphs" >50</text>
<line x1="27.50" y1="57.06" x2="29.00" y2="57.06" stroke="#555" stroke-width="0.8" />
<text x="26.7" y="58.18" font-size="3.1" text-anchor="end" fill="#111" stroke="#111" stroke-width="0.17" textLength="4.14" lengthAdjust="spacingAndGlyphs" >100</text>
<line x1="27.50" y1="43.94" x2="29.00" y2="43.94" stroke="#555" stroke-width="0.8" />
<text x="26.7" y="45.06" font-size="3.1" text-anchor="end" fill="#111" stroke="#111" stroke-width="0.17" textLength="4.14" lengthAdjust="spacingAndGlyphs" >150</text>
<line x1="27.50" y1="30.82" x2="29.00" y2="30.82" stroke="#555" stroke-width="0.8" />
<text x="26.7" y="31.94" font-size="3.1" text-anchor="end" fill="#111" stroke="#111" stroke-width="0.17" textLength="4.14" lengthAdjust="spacingAndGlyphs" >200</text>
<line x1="27.50" y1="17.70" x2="29.00" y2="17.70" stroke="#555" stroke-width="0.8" />
<text x="26.7" y="18.82" font-size="3.1" text-anchor="end" fill="#111" stroke="#111" stroke-width="0.17" textLength="4.14" lengthAdjust="spacingAndGlyphs" >250</text>
<text x="102" y="92.42" font-size="3.1" text-anchor="middle" fill="#111" stroke="#111" stroke-width="0.12" >(x 10<tspan dy="-0.6" font-size="75%">3</tspan>)</text>
<text x="17.8" y="24.62" font-size="3.1" text-anchor="middle" fill="#111" stroke="#111" stroke-width="0.12" transform="rotate(-90 17.8 23.5)" >(x 10<tspan dy="-0.6" font-size="75%">3</tspan>)</text>
<line x1="133.0" y1="83.0" x2="206.2" y2="83.0" stroke="#666" stroke-width="1.1" stroke-dasharray="0.8 1.92"/>
<line x1="133.0" y1="83.0" x2="133.0" y2="14.4" stroke="#666" stroke-width="1.1" stroke-dasharray="0.8 1.83"/>
<line x1="133.20" y1="82.60" x2="133.20" y2="84.10" stroke="#555" stroke-width="0.8" />
<text x="133.2" y="88.22" font-size="3.1" text-anchor="middle" fill="#111" stroke="#111" stroke-width="0.17" textLength="1.38" lengthAdjust="spacingAndGlyphs" >0</text>
<line x1="146.82" y1="82.60" x2="146.82" y2="84.10" stroke="#555" stroke-width="0.8" />
<text x="146.82" y="88.22" font-size="3.1" text-anchor="middle" fill="#111" stroke="#111" stroke-width="0.17" textLength="2.76" lengthAdjust="spacingAndGlyphs" >50</text>
<line x1="160.44" y1="82.60" x2="160.44" y2="84.10" stroke="#555" stroke-width="0.8" />
<text x="160.44" y="88.22" font-size="3.1" text-anchor="middle" fill="#111" stroke="#111" stroke-width="0.17" textLength="4.14" lengthAdjust="spacingAndGlyphs" >100</text>
<line x1="174.06" y1="82.60" x2="174.06" y2="84.10" stroke="#555" stroke-width="0.8" />
<text x="174.06" y="88.22" font-size="3.1" text-anchor="middle" fill="#111" stroke="#111" stroke-width="0.17" textLength="4.14" lengthAdjust="spacingAndGlyphs" >150</text>
<line x1="187.68" y1="82.60" x2="187.68" y2="84.10" stroke="#555" stroke-width="0.8" />
<text x="187.68" y="88.22" font-size="3.1" text-anchor="middle" fill="#111" stroke="#111" stroke-width="0.17" textLength="4.14" lengthAdjust="spacingAndGlyphs" >200</text>
<line x1="201.30" y1="82.60" x2="201.30" y2="84.10" stroke="#555" stroke-width="0.8" />
<text x="201.3" y="88.22" font-size="3.1" text-anchor="middle" fill="#111" stroke="#111" stroke-width="0.17" textLength="4.14" lengthAdjust="spacingAndGlyphs" >250</text>
<line x1="131.90" y1="83.00" x2="133.40" y2="83.00" stroke="#555" stroke-width="0.8" />
<text x="131.1" y="84.12" font-size="3.1" text-anchor="end" fill="#111" stroke="#111" stroke-width="0.17" textLength="1.38" lengthAdjust="spacingAndGlyphs" >0</text>
<line x1="131.90" y1="69.85" x2="133.40" y2="69.85" stroke="#555" stroke-width="0.8" />
<text x="131.1" y="70.97" font-size="3.1" text-anchor="end" fill="#111" stroke="#111" stroke-width="0.17" textLength="2.76" lengthAdjust="spacingAndGlyphs" >50</text>
<line x1="131.90" y1="56.70" x2="133.40" y2="56.70" stroke="#555" stroke-width="0.8" />
<text x="131.1" y="57.82" font-size="3.1" text-anchor="end" fill="#111" stroke="#111" stroke-width="0.17" textLength="4.14" lengthAdjust="spacingAndGlyphs" >100</text>
<line x1="131.90" y1="43.55" x2="133.40" y2="43.55" stroke="#555" stroke-width="0.8" />
<text x="131.1" y="44.67" font-size="3.1" text-anchor="end" fill="#111" stroke="#111" stroke-width="0.17" textLength="4.14" lengthAdjust="spacingAndGlyphs" >150</text>
<line x1="131.90" y1="30.40" x2="133.40" y2="30.40" stroke="#555" stroke-width="0.8" />
<text x="131.1" y="31.52" font-size="3.1" text-anchor="end" fill="#111" stroke="#111" stroke-width="0.17" textLength="4.14" lengthAdjust="spacingAndGlyphs" >200</text>
<line x1="131.90" y1="17.25" x2="133.40" y2="17.25" stroke="#555" stroke-width="0.8" />
<text x="131.1" y="18.37" font-size="3.1" text-anchor="end" fill="#111" stroke="#111" stroke-width="0.17" textLength="4.14" lengthAdjust="spacingAndGlyphs" >250</text>
<text x="201.3" y="91.62" font-size="3.1" text-anchor="middle" fill="#111" stroke="#111" stroke-width="0.12" >(x 10<tspan dy="-0.6" font-size="75%">3</tspan>)</text>
<text x="121.9" y="26.12" font-size="3.1" text-anchor="middle" fill="#111" stroke="#111" stroke-width="0.12" transform="rotate(-90 121.9 25)" >(x 10<tspan dy="-0.6" font-size="75%">3</tspan>)</text>
<line x1="231.2" y1="79.60000000000001" x2="300.2" y2="79.60000000000001" stroke="#666" stroke-width="1.1" stroke-dasharray="0.8 1.82"/>
<line x1="231.2" y1="79.60000000000001" x2="231.2" y2="14.2" stroke="#666" stroke-width="1.1" stroke-dasharray="0.8 1.68"/>
<line x1="231.70" y1="79.20" x2="231.70" y2="80.70" stroke="#555" stroke-width="0.8" />
<text x="231.7" y="84.82" font-size="3.1" text-anchor="middle" fill="#111" stroke="#111" stroke-width="0.17" textLength="1.38" lengthAdjust="spacingAndGlyphs" >0</text>
<line x1="244.80" y1="79.20" x2="244.80" y2="80.70" stroke="#555" stroke-width="0.8" />
<text x="244.79999999999998" y="84.82" font-size="3.1" text-anchor="middle" fill="#111" stroke="#111" stroke-width="0.17" textLength="2.76" lengthAdjust="spacingAndGlyphs" >50</text>
<line x1="257.90" y1="79.20" x2="257.90" y2="80.70" stroke="#555" stroke-width="0.8" />
<text x="257.9" y="84.82" font-size="3.1" text-anchor="middle" fill="#111" stroke="#111" stroke-width="0.17" textLength="4.14" lengthAdjust="spacingAndGlyphs" >100</text>
<line x1="271.00" y1="79.20" x2="271.00" y2="80.70" stroke="#555" stroke-width="0.8" />
<text x="271.0" y="84.82" font-size="3.1" text-anchor="middle" fill="#111" stroke="#111" stroke-width="0.17" textLength="4.14" lengthAdjust="spacingAndGlyphs" >150</text>
<line x1="284.10" y1="79.20" x2="284.10" y2="80.70" stroke="#555" stroke-width="0.8" />
<text x="284.09999999999997" y="84.82" font-size="3.1" text-anchor="middle" fill="#111" stroke="#111" stroke-width="0.17" textLength="4.14" lengthAdjust="spacingAndGlyphs" >200</text>
<line x1="297.20" y1="79.20" x2="297.20" y2="80.70" stroke="#555" stroke-width="0.8" />
<text x="297.2" y="84.82" font-size="3.1" text-anchor="middle" fill="#111" stroke="#111" stroke-width="0.17" textLength="4.14" lengthAdjust="spacingAndGlyphs" >250</text>
<line x1="230.10" y1="79.30" x2="231.60" y2="79.30" stroke="#555" stroke-width="0.8" />
<text x="229.29999999999998" y="80.42" font-size="3.1" text-anchor="end" fill="#111" stroke="#111" stroke-width="0.17" textLength="1.38" lengthAdjust="spacingAndGlyphs" >0</text>
<line x1="230.10" y1="66.88" x2="231.60" y2="66.88" stroke="#555" stroke-width="0.8" />
<text x="229.29999999999998" y="68.00" font-size="3.1" text-anchor="end" fill="#111" stroke="#111" stroke-width="0.17" textLength="2.76" lengthAdjust="spacingAndGlyphs" >50</text>
<line x1="230.10" y1="54.46" x2="231.60" y2="54.46" stroke="#555" stroke-width="0.8" />
<text x="229.29999999999998" y="55.58" font-size="3.1" text-anchor="end" fill="#111" stroke="#111" stroke-width="0.17" textLength="4.14" lengthAdjust="spacingAndGlyphs" >100</text>
<line x1="230.10" y1="42.04" x2="231.60" y2="42.04" stroke="#555" stroke-width="0.8" />
<text x="229.29999999999998" y="43.16" font-size="3.1" text-anchor="end" fill="#111" stroke="#111" stroke-width="0.17" textLength="4.14" lengthAdjust="spacingAndGlyphs" >150</text>
<line x1="230.10" y1="29.62" x2="231.60" y2="29.62" stroke="#555" stroke-width="0.8" />
<text x="229.29999999999998" y="30.74" font-size="3.1" text-anchor="end" fill="#111" stroke="#111" stroke-width="0.17" textLength="4.14" lengthAdjust="spacingAndGlyphs" >200</text>
<line x1="230.10" y1="17.20" x2="231.60" y2="17.20" stroke="#555" stroke-width="0.8" />
<text x="229.29999999999998" y="18.32" font-size="3.1" text-anchor="end" fill="#111" stroke="#111" stroke-width="0.17" textLength="4.14" lengthAdjust="spacingAndGlyphs" >250</text>
<text x="298.8" y="87.62" font-size="3.1" text-anchor="middle" fill="#111" stroke="#111" stroke-width="0.12" >(x 10<tspan dy="-0.6" font-size="75%">3</tspan>)</text>
<text x="221.9" y="26.12" font-size="3.1" text-anchor="middle" fill="#111" stroke="#111" stroke-width="0.12" transform="rotate(-90 221.9 25)" >(x 10<tspan dy="-0.6" font-size="75%">3</tspan>)</text>
<line x1="27.1" y1="172.70000000000002" x2="96.5" y2="172.70000000000002" stroke="#666" stroke-width="1.1" stroke-dasharray="0.8 1.70"/>
<line x1="27.1" y1="172.70000000000002" x2="27.1" y2="107.8" stroke="#666" stroke-width="1.1" stroke-dasharray="0.8 1.64"/>
<line x1="32.90" y1="172.30" x2="32.90" y2="173.80" stroke="#555" stroke-width="0.8" />
<text x="32.9" y="177.92" font-size="3.1" text-anchor="middle" fill="#111" stroke="#111" stroke-width="0.17" textLength="5.04" lengthAdjust="spacingAndGlyphs" >-500</text>
<line x1="41.10" y1="172.30" x2="41.10" y2="173.80" stroke="#555" stroke-width="0.8" />
<text x="41.1" y="177.92" font-size="3.1" text-anchor="middle" fill="#111" stroke="#111" stroke-width="0.17" textLength="1.38" lengthAdjust="spacingAndGlyphs" >0</text>
<line x1="56.10" y1="172.30" x2="56.10" y2="173.80" stroke="#555" stroke-width="0.8" />
<text x="56.1" y="177.92" font-size="3.1" text-anchor="middle" fill="#111" stroke="#111" stroke-width="0.17" textLength="3.9" lengthAdjust="spacingAndGlyphs" >10<tspan dy="-0.8" font-size="75%">3</tspan></text>
<line x1="74.80" y1="172.30" x2="74.80" y2="173.80" stroke="#555" stroke-width="0.8" />
<text x="74.8" y="177.92" font-size="3.1" text-anchor="middle" fill="#111" stroke="#111" stroke-width="0.17" textLength="3.9" lengthAdjust="spacingAndGlyphs" >10<tspan dy="-0.8" font-size="75%">4</tspan></text>
<line x1="90.20" y1="172.30" x2="90.20" y2="173.80" stroke="#555" stroke-width="0.8" />
<text x="90.2" y="177.92" font-size="3.1" text-anchor="middle" fill="#111" stroke="#111" stroke-width="0.17" textLength="3.9" lengthAdjust="spacingAndGlyphs" >10<tspan dy="-0.8" font-size="75%">5</tspan></text>
<line x1="26.00" y1="172.60" x2="27.50" y2="172.60" stroke="#555" stroke-width="0.8" />
<text x="25.2" y="173.72" font-size="3.1" text-anchor="end" fill="#111" stroke="#111" stroke-width="0.17" textLength="1.38" lengthAdjust="spacingAndGlyphs" >0</text>
<line x1="26.00" y1="160.40" x2="27.50" y2="160.40" stroke="#555" stroke-width="0.8" />
<text x="25.2" y="161.52" font-size="3.1" text-anchor="end" fill="#111" stroke="#111" stroke-width="0.17" textLength="2.76" lengthAdjust="spacingAndGlyphs" >50</text>
<line x1="26.00" y1="148.20" x2="27.50" y2="148.20" stroke="#555" stroke-width="0.8" />
<text x="25.2" y="149.32" font-size="3.1" text-anchor="end" fill="#111" stroke="#111" stroke-width="0.17" textLength="4.14" lengthAdjust="spacingAndGlyphs" >100</text>
<line x1="26.00" y1="136.00" x2="27.50" y2="136.00" stroke="#555" stroke-width="0.8" />
<text x="25.2" y="137.12" font-size="3.1" text-anchor="end" fill="#111" stroke="#111" stroke-width="0.17" textLength="4.14" lengthAdjust="spacingAndGlyphs" >150</text>
<line x1="26.00" y1="123.80" x2="27.50" y2="123.80" stroke="#555" stroke-width="0.8" />
<text x="25.2" y="124.92" font-size="3.1" text-anchor="end" fill="#111" stroke="#111" stroke-width="0.17" textLength="4.14" lengthAdjust="spacingAndGlyphs" >200</text>
<line x1="26.00" y1="111.60" x2="27.50" y2="111.60" stroke="#555" stroke-width="0.8" />
<text x="25.2" y="112.72" font-size="3.1" text-anchor="end" fill="#111" stroke="#111" stroke-width="0.17" textLength="4.14" lengthAdjust="spacingAndGlyphs" >250</text>
<text x="16.9" y="118.02" font-size="3.1" text-anchor="middle" fill="#111" stroke="#111" stroke-width="0.12" transform="rotate(-90 16.9 116.9)" >(x 10<tspan dy="-0.6" font-size="75%">3</tspan>)</text>
<line x1="119.8" y1="177.20000000000002" x2="192.3" y2="177.20000000000002" stroke="#666" stroke-width="1.1" stroke-dasharray="0.8 1.70"/>
<line x1="119.8" y1="177.20000000000002" x2="119.8" y2="109.2" stroke="#666" stroke-width="1.1" stroke-dasharray="0.8 1.70"/>
<line x1="124.00" y1="176.80" x2="124.00" y2="178.30" stroke="#555" stroke-width="0.8" />
<text x="124" y="182.42" font-size="3.1" text-anchor="middle" fill="#111" stroke="#111" stroke-width="0.17" textLength="5.04" lengthAdjust="spacingAndGlyphs" >-500</text>
<line x1="133.50" y1="176.80" x2="133.50" y2="178.30" stroke="#555" stroke-width="0.8" />
<text x="133.5" y="182.42" font-size="3.1" text-anchor="middle" fill="#111" stroke="#111" stroke-width="0.17" textLength="1.38" lengthAdjust="spacingAndGlyphs" >0</text>
<line x1="148.90" y1="176.80" x2="148.90" y2="178.30" stroke="#555" stroke-width="0.8" />
<text x="148.9" y="182.42" font-size="3.1" text-anchor="middle" fill="#111" stroke="#111" stroke-width="0.17" textLength="3.9" lengthAdjust="spacingAndGlyphs" >10<tspan dy="-0.8" font-size="75%">3</tspan></text>
<line x1="169.00" y1="176.80" x2="169.00" y2="178.30" stroke="#555" stroke-width="0.8" />
<text x="169" y="182.42" font-size="3.1" text-anchor="middle" fill="#111" stroke="#111" stroke-width="0.17" textLength="3.9" lengthAdjust="spacingAndGlyphs" >10<tspan dy="-0.8" font-size="75%">4</tspan></text>
<line x1="186.00" y1="176.80" x2="186.00" y2="178.30" stroke="#555" stroke-width="0.8" />
<text x="186" y="182.42" font-size="3.1" text-anchor="middle" fill="#111" stroke="#111" stroke-width="0.17" textLength="3.9" lengthAdjust="spacingAndGlyphs" >10<tspan dy="-0.8" font-size="75%">5</tspan></text>
<line x1="118.70" y1="114.50" x2="120.20" y2="114.50" stroke="#555" stroke-width="0.8" />
<text x="117.9" y="115.62" font-size="3.1" text-anchor="end" fill="#111" stroke="#111" stroke-width="0.17" textLength="3.9" lengthAdjust="spacingAndGlyphs" >10<tspan dy="-0.8" font-size="75%">5</tspan></text>
<line x1="118.70" y1="130.50" x2="120.20" y2="130.50" stroke="#555" stroke-width="0.8" />
<text x="117.9" y="131.62" font-size="3.1" text-anchor="end" fill="#111" stroke="#111" stroke-width="0.17" textLength="3.9" lengthAdjust="spacingAndGlyphs" >10<tspan dy="-0.8" font-size="75%">4</tspan></text>
<line x1="118.70" y1="151.00" x2="120.20" y2="151.00" stroke="#555" stroke-width="0.8" />
<text x="117.9" y="152.12" font-size="3.1" text-anchor="end" fill="#111" stroke="#111" stroke-width="0.17" textLength="5.52" lengthAdjust="spacingAndGlyphs" >1000</text>
<line x1="118.70" y1="162.60" x2="120.20" y2="162.60" stroke="#555" stroke-width="0.8" />
<text x="117.9" y="163.72" font-size="3.1" text-anchor="end" fill="#111" stroke="#111" stroke-width="0.17" textLength="1.38" lengthAdjust="spacingAndGlyphs" >0</text>
<line x1="118.70" y1="173.30" x2="120.20" y2="173.30" stroke="#555" stroke-width="0.8" />
<text x="117.9" y="174.42" font-size="3.1" text-anchor="end" fill="#111" stroke="#111" stroke-width="0.17" textLength="6.42" lengthAdjust="spacingAndGlyphs" >-1000</text>
<line x1="273.8" y1="170.0" x2="348.4" y2="170.0" stroke="#666" stroke-width="1.1" stroke-dasharray="0.8 1.70"/>
<line x1="273.8" y1="170.0" x2="273.8" y2="104.2" stroke="#666" stroke-width="1.1" stroke-dasharray="0.8 1.70"/>
<line x1="280.90" y1="169.60" x2="280.90" y2="171.10" stroke="#555" stroke-width="0.8" />
<text x="280.9" y="175.22" font-size="3.1" text-anchor="middle" fill="#111" stroke="#111" stroke-width="0.17" textLength="1.38" lengthAdjust="spacingAndGlyphs" >0</text>
<line x1="290.50" y1="169.60" x2="290.50" y2="171.10" stroke="#555" stroke-width="0.8" />
<text x="290.5" y="175.22" font-size="3.1" text-anchor="middle" fill="#111" stroke="#111" stroke-width="0.17" textLength="3.9" lengthAdjust="spacingAndGlyphs" >10<tspan dy="-0.8" font-size="75%">2</tspan></text>
<line x1="307.70" y1="169.60" x2="307.70" y2="171.10" stroke="#555" stroke-width="0.8" />
<text x="307.7" y="175.22" font-size="3.1" text-anchor="middle" fill="#111" stroke="#111" stroke-width="0.17" textLength="3.9" lengthAdjust="spacingAndGlyphs" >10<tspan dy="-0.8" font-size="75%">3</tspan></text>
<line x1="324.90" y1="169.60" x2="324.90" y2="171.10" stroke="#555" stroke-width="0.8" />
<text x="324.9" y="175.22" font-size="3.1" text-anchor="middle" fill="#111" stroke="#111" stroke-width="0.17" textLength="3.9" lengthAdjust="spacingAndGlyphs" >10<tspan dy="-0.8" font-size="75%">4</tspan></text>
<line x1="341.20" y1="169.60" x2="341.20" y2="171.10" stroke="#555" stroke-width="0.8" />
<text x="341.2" y="175.22" font-size="3.1" text-anchor="middle" fill="#111" stroke="#111" stroke-width="0.17" textLength="3.9" lengthAdjust="spacingAndGlyphs" >10<tspan dy="-0.8" font-size="75%">5</tspan></text>
<line x1="272.70" y1="110.50" x2="274.20" y2="110.50" stroke="#555" stroke-width="0.8" />
<text x="271.9" y="111.62" font-size="3.1" text-anchor="end" fill="#111" stroke="#111" stroke-width="0.17" textLength="3.9" lengthAdjust="spacingAndGlyphs" >10<tspan dy="-0.8" font-size="75%">5</tspan></text>
<line x1="272.70" y1="124.90" x2="274.20" y2="124.90" stroke="#555" stroke-width="0.8" />
<text x="271.9" y="126.02" font-size="3.1" text-anchor="end" fill="#111" stroke="#111" stroke-width="0.17" textLength="3.9" lengthAdjust="spacingAndGlyphs" >10<tspan dy="-0.8" font-size="75%">4</tspan></text>
<line x1="272.70" y1="141.00" x2="274.20" y2="141.00" stroke="#555" stroke-width="0.8" />
<text x="271.9" y="142.12" font-size="3.1" text-anchor="end" fill="#111" stroke="#111" stroke-width="0.17" textLength="3.9" lengthAdjust="spacingAndGlyphs" >10<tspan dy="-0.8" font-size="75%">3</tspan></text>
<line x1="272.70" y1="147.60" x2="274.20" y2="147.60" stroke="#555" stroke-width="0.8" />
<text x="271.9" y="148.72" font-size="3.1" text-anchor="end" fill="#111" stroke="#111" stroke-width="0.17" textLength="4.14" lengthAdjust="spacingAndGlyphs" >500</text>
<line x1="272.70" y1="158.20" x2="274.20" y2="158.20" stroke="#555" stroke-width="0.8" />
<text x="271.9" y="159.32" font-size="3.1" text-anchor="end" fill="#111" stroke="#111" stroke-width="0.17" textLength="1.38" lengthAdjust="spacingAndGlyphs" >0</text>
<line x1="272.70" y1="168.70" x2="274.20" y2="168.70" stroke="#555" stroke-width="0.8" />
<text x="271.9" y="169.82" font-size="3.1" text-anchor="end" fill="#111" stroke="#111" stroke-width="0.17" textLength="5.04" lengthAdjust="spacingAndGlyphs" >-500</text>
<line x1="369.3" y1="169.3" x2="443.4" y2="169.3" stroke="#666" stroke-width="1.1" stroke-dasharray="0.8 1.70"/>
<line x1="369.3" y1="169.3" x2="369.3" y2="104.2" stroke="#666" stroke-width="1.1" stroke-dasharray="0.8 1.70"/>
<line x1="374.00" y1="168.90" x2="374.00" y2="170.40" stroke="#555" stroke-width="0.8" />
<text x="374" y="174.52" font-size="3.1" text-anchor="middle" fill="#111" stroke="#111" stroke-width="0.17" textLength="5.04" lengthAdjust="spacingAndGlyphs" >-500</text>
<line x1="383.20" y1="168.90" x2="383.20" y2="170.40" stroke="#555" stroke-width="0.8" />
<text x="383.2" y="174.52" font-size="3.1" text-anchor="middle" fill="#111" stroke="#111" stroke-width="0.17" textLength="1.38" lengthAdjust="spacingAndGlyphs" >0</text>
<line x1="399.50" y1="168.90" x2="399.50" y2="170.40" stroke="#555" stroke-width="0.8" />
<text x="399.5" y="174.52" font-size="3.1" text-anchor="middle" fill="#111" stroke="#111" stroke-width="0.17" textLength="3.9" lengthAdjust="spacingAndGlyphs" >10<tspan dy="-0.8" font-size="75%">3</tspan></text>
<line x1="419.50" y1="168.90" x2="419.50" y2="170.40" stroke="#555" stroke-width="0.8" />
<text x="419.5" y="174.52" font-size="3.1" text-anchor="middle" fill="#111" stroke="#111" stroke-width="0.17" textLength="3.9" lengthAdjust="spacingAndGlyphs" >10<tspan dy="-0.8" font-size="75%">4</tspan></text>
<line x1="436.80" y1="168.90" x2="436.80" y2="170.40" stroke="#555" stroke-width="0.8" />
<text x="436.8" y="174.52" font-size="3.1" text-anchor="middle" fill="#111" stroke="#111" stroke-width="0.17" textLength="3.9" lengthAdjust="spacingAndGlyphs" >10<tspan dy="-0.8" font-size="75%">5</tspan></text>
<line x1="368.20" y1="110.30" x2="369.70" y2="110.30" stroke="#555" stroke-width="0.8" />
<text x="367.4" y="111.42" font-size="3.1" text-anchor="end" fill="#111" stroke="#111" stroke-width="0.17" textLength="3.9" lengthAdjust="spacingAndGlyphs" >10<tspan dy="-0.8" font-size="75%">5</tspan></text>
<line x1="368.20" y1="125.60" x2="369.70" y2="125.60" stroke="#555" stroke-width="0.8" />
<text x="367.4" y="126.72" font-size="3.1" text-anchor="end" fill="#111" stroke="#111" stroke-width="0.17" textLength="3.9" lengthAdjust="spacingAndGlyphs" >10<tspan dy="-0.8" font-size="75%">4</tspan></text>
<line x1="368.20" y1="140.00" x2="369.70" y2="140.00" stroke="#555" stroke-width="0.8" />
<text x="367.4" y="141.12" font-size="3.1" text-anchor="end" fill="#111" stroke="#111" stroke-width="0.17" textLength="3.9" lengthAdjust="spacingAndGlyphs" >10<tspan dy="-0.8" font-size="75%">3</tspan></text>
<line x1="368.20" y1="156.00" x2="369.70" y2="156.00" stroke="#555" stroke-width="0.8" />
<text x="367.4" y="157.12" font-size="3.1" text-anchor="end" fill="#111" stroke="#111" stroke-width="0.17" textLength="3.9" lengthAdjust="spacingAndGlyphs" >10<tspan dy="-0.8" font-size="75%">2</tspan></text>
<line x1="368.20" y1="163.50" x2="369.70" y2="163.50" stroke="#555" stroke-width="0.8" />
<text x="367.4" y="164.62" font-size="3.1" text-anchor="end" fill="#111" stroke="#111" stroke-width="0.17" textLength="1.38" lengthAdjust="spacingAndGlyphs" >0</text>
<line x1="465.40000000000003" y1="184.4" x2="539.4" y2="184.4" stroke="#666" stroke-width="1.1" stroke-dasharray="0.8 1.70"/>
<line x1="465.40000000000003" y1="184.4" x2="465.40000000000003" y2="114.6" stroke="#666" stroke-width="1.1" stroke-dasharray="0.8 1.70"/>
<line x1="475.50" y1="184.00" x2="475.50" y2="185.50" stroke="#555" stroke-width="0.8" />
<text x="475.5" y="189.62" font-size="3.1" text-anchor="middle" fill="#111" stroke="#111" stroke-width="0.17" textLength="1.38" lengthAdjust="spacingAndGlyphs" >0</text>
<line x1="498.80" y1="184.00" x2="498.80" y2="185.50" stroke="#555" stroke-width="0.8" />
<text x="498.8" y="189.62" font-size="3.1" text-anchor="middle" fill="#111" stroke="#111" stroke-width="0.17" textLength="3.9" lengthAdjust="spacingAndGlyphs" >10<tspan dy="-0.8" font-size="75%">3</tspan></text>
<line x1="515.60" y1="184.00" x2="515.60" y2="185.50" stroke="#555" stroke-width="0.8" />
<text x="515.6" y="189.62" font-size="3.1" text-anchor="middle" fill="#111" stroke="#111" stroke-width="0.17" textLength="3.9" lengthAdjust="spacingAndGlyphs" >10<tspan dy="-0.8" font-size="75%">4</tspan></text>
<line x1="532.80" y1="184.00" x2="532.80" y2="185.50" stroke="#555" stroke-width="0.8" />
<text x="532.8" y="189.62" font-size="3.1" text-anchor="middle" fill="#111" stroke="#111" stroke-width="0.17" textLength="3.9" lengthAdjust="spacingAndGlyphs" >10<tspan dy="-0.8" font-size="75%">5</tspan></text>
<line x1="464.30" y1="120.70" x2="465.80" y2="120.70" stroke="#555" stroke-width="0.8" />
<text x="463.5" y="121.82" font-size="3.1" text-anchor="end" fill="#111" stroke="#111" stroke-width="0.17" textLength="3.9" lengthAdjust="spacingAndGlyphs" >10<tspan dy="-0.8" font-size="75%">5</tspan></text>
<line x1="464.30" y1="136.50" x2="465.80" y2="136.50" stroke="#555" stroke-width="0.8" />
<text x="463.5" y="137.62" font-size="3.1" text-anchor="end" fill="#111" stroke="#111" stroke-width="0.17" textLength="3.9" lengthAdjust="spacingAndGlyphs" >10<tspan dy="-0.8" font-size="75%">4</tspan></text>
<line x1="464.30" y1="152.60" x2="465.80" y2="152.60" stroke="#555" stroke-width="0.8" />
<text x="463.5" y="153.72" font-size="3.1" text-anchor="end" fill="#111" stroke="#111" stroke-width="0.17" textLength="3.9" lengthAdjust="spacingAndGlyphs" >10<tspan dy="-0.8" font-size="75%">3</tspan></text>
<line x1="464.30" y1="169.20" x2="465.80" y2="169.20" stroke="#555" stroke-width="0.8" />
<text x="463.5" y="170.32" font-size="3.1" text-anchor="end" fill="#111" stroke="#111" stroke-width="0.17" textLength="3.9" lengthAdjust="spacingAndGlyphs" >10<tspan dy="-0.8" font-size="75%">2</tspan></text>
<line x1="464.30" y1="178.40" x2="465.80" y2="178.40" stroke="#555" stroke-width="0.8" />
<text x="463.5" y="179.52" font-size="3.1" text-anchor="end" fill="#111" stroke="#111" stroke-width="0.17" textLength="1.38" lengthAdjust="spacingAndGlyphs" >0</text>
<line x1="273.6" y1="274.59999999999997" x2="345" y2="274.59999999999997" stroke="#666" stroke-width="1.1" stroke-dasharray="0.8 1.70"/>
<line x1="273.6" y1="274.59999999999997" x2="273.6" y2="207.4" stroke="#666" stroke-width="1.1" stroke-dasharray="0.8 1.70"/>
<line x1="278.70" y1="274.20" x2="278.70" y2="275.70" stroke="#555" stroke-width="0.8" />
<text x="278.7" y="279.82" font-size="3.1" text-anchor="middle" fill="#111" stroke="#111" stroke-width="0.17" textLength="6.42" lengthAdjust="spacingAndGlyphs" >-1000</text>
<line x1="289.60" y1="274.20" x2="289.60" y2="275.70" stroke="#555" stroke-width="0.8" />
<text x="289.6" y="279.82" font-size="3.1" text-anchor="middle" fill="#111" stroke="#111" stroke-width="0.17" textLength="1.38" lengthAdjust="spacingAndGlyphs" >0</text>
<line x1="301.50" y1="274.20" x2="301.50" y2="275.70" stroke="#555" stroke-width="0.8" />
<text x="301.5" y="279.82" font-size="3.1" text-anchor="middle" fill="#111" stroke="#111" stroke-width="0.17" textLength="5.52" lengthAdjust="spacingAndGlyphs" >1000</text>
<line x1="321.80" y1="274.20" x2="321.80" y2="275.70" stroke="#555" stroke-width="0.8" />
<text x="321.8" y="279.82" font-size="3.1" text-anchor="middle" fill="#111" stroke="#111" stroke-width="0.17" textLength="3.9" lengthAdjust="spacingAndGlyphs" >10<tspan dy="-0.8" font-size="75%">4</tspan></text>
<line x1="338.20" y1="274.20" x2="338.20" y2="275.70" stroke="#555" stroke-width="0.8" />
<text x="338.2" y="279.82" font-size="3.1" text-anchor="middle" fill="#111" stroke="#111" stroke-width="0.17" textLength="3.9" lengthAdjust="spacingAndGlyphs" >10<tspan dy="-0.8" font-size="75%">5</tspan></text>
<line x1="272.50" y1="213.60" x2="274.00" y2="213.60" stroke="#555" stroke-width="0.8" />
<text x="271.7" y="214.72" font-size="3.1" text-anchor="end" fill="#111" stroke="#111" stroke-width="0.17" textLength="3.9" lengthAdjust="spacingAndGlyphs" >10<tspan dy="-0.8" font-size="75%">5</tspan></text>
<line x1="272.50" y1="228.60" x2="274.00" y2="228.60" stroke="#555" stroke-width="0.8" />
<text x="271.7" y="229.72" font-size="3.1" text-anchor="end" fill="#111" stroke="#111" stroke-width="0.17" textLength="3.9" lengthAdjust="spacingAndGlyphs" >10<tspan dy="-0.8" font-size="75%">4</tspan></text>
<line x1="272.50" y1="244.30" x2="274.00" y2="244.30" stroke="#555" stroke-width="0.8" />
<text x="271.7" y="245.42" font-size="3.1" text-anchor="end" fill="#111" stroke="#111" stroke-width="0.17" textLength="3.9" lengthAdjust="spacingAndGlyphs" >10<tspan dy="-0.8" font-size="75%">3</tspan></text>
<line x1="272.50" y1="260.10" x2="274.00" y2="260.10" stroke="#555" stroke-width="0.8" />
<text x="271.7" y="261.22" font-size="3.1" text-anchor="end" fill="#111" stroke="#111" stroke-width="0.17" textLength="3.9" lengthAdjust="spacingAndGlyphs" >10<tspan dy="-0.8" font-size="75%">2</tspan></text>
<line x1="272.50" y1="268.60" x2="274.00" y2="268.60" stroke="#555" stroke-width="0.8" />
<text x="271.7" y="269.72" font-size="3.1" text-anchor="end" fill="#111" stroke="#111" stroke-width="0.17" textLength="1.38" lengthAdjust="spacingAndGlyphs" >0</text>
<line x1="367.1" y1="288.7" x2="441.3" y2="288.7" stroke="#666" stroke-width="1.1" stroke-dasharray="0.8 1.70"/>
<line x1="367.1" y1="288.7" x2="367.1" y2="213.9" stroke="#666" stroke-width="1.1" stroke-dasharray="0.8 1.70"/>
<line x1="374.50" y1="288.30" x2="374.50" y2="289.80" stroke="#555" stroke-width="0.8" />
<text x="374.5" y="293.92" font-size="3.1" text-anchor="middle" fill="#111" stroke="#111" stroke-width="0.17" textLength="1.38" lengthAdjust="spacingAndGlyphs" >0</text>
<line x1="383.30" y1="288.30" x2="383.30" y2="289.80" stroke="#555" stroke-width="0.8" />
<text x="383.3" y="293.92" font-size="3.1" text-anchor="middle" fill="#111" stroke="#111" stroke-width="0.17" textLength="3.9" lengthAdjust="spacingAndGlyphs" >10<tspan dy="-0.8" font-size="75%">2</tspan></text>
<line x1="401.50" y1="288.30" x2="401.50" y2="289.80" stroke="#555" stroke-width="0.8" />
<text x="401.5" y="293.92" font-size="3.1" text-anchor="middle" fill="#111" stroke="#111" stroke-width="0.17" textLength="3.9" lengthAdjust="spacingAndGlyphs" >10<tspan dy="-0.8" font-size="75%">3</tspan></text>
<line x1="418.20" y1="288.30" x2="418.20" y2="289.80" stroke="#555" stroke-width="0.8" />
<text x="418.2" y="293.92" font-size="3.1" text-anchor="middle" fill="#111" stroke="#111" stroke-width="0.17" textLength="3.9" lengthAdjust="spacingAndGlyphs" >10<tspan dy="-0.8" font-size="75%">4</tspan></text>
<line x1="435.10" y1="288.30" x2="435.10" y2="289.80" stroke="#555" stroke-width="0.8" />
<text x="435.1" y="293.92" font-size="3.1" text-anchor="middle" fill="#111" stroke="#111" stroke-width="0.17" textLength="3.9" lengthAdjust="spacingAndGlyphs" >10<tspan dy="-0.8" font-size="75%">5</tspan></text>
<line x1="366.00" y1="219.80" x2="367.50" y2="219.80" stroke="#555" stroke-width="0.8" />
<text x="365.2" y="220.92" font-size="3.1" text-anchor="end" fill="#111" stroke="#111" stroke-width="0.17" textLength="3.9" lengthAdjust="spacingAndGlyphs" >10<tspan dy="-0.8" font-size="75%">5</tspan></text>
<line x1="366.00" y1="237.00" x2="367.50" y2="237.00" stroke="#555" stroke-width="0.8" />
<text x="365.2" y="238.12" font-size="3.1" text-anchor="end" fill="#111" stroke="#111" stroke-width="0.17" textLength="3.9" lengthAdjust="spacingAndGlyphs" >10<tspan dy="-0.8" font-size="75%">4</tspan></text>
<line x1="366.00" y1="256.20" x2="367.50" y2="256.20" stroke="#555" stroke-width="0.8" />
<text x="365.2" y="257.32" font-size="3.1" text-anchor="end" fill="#111" stroke="#111" stroke-width="0.17" textLength="3.9" lengthAdjust="spacingAndGlyphs" >10<tspan dy="-0.8" font-size="75%">3</tspan></text>
<line x1="366.00" y1="262.60" x2="367.50" y2="262.60" stroke="#555" stroke-width="0.8" />
<text x="365.2" y="263.72" font-size="3.1" text-anchor="end" fill="#111" stroke="#111" stroke-width="0.17" textLength="4.14" lengthAdjust="spacingAndGlyphs" >500</text>
<line x1="366.00" y1="274.80" x2="367.50" y2="274.80" stroke="#555" stroke-width="0.8" />
<text x="365.2" y="275.92" font-size="3.1" text-anchor="end" fill="#111" stroke="#111" stroke-width="0.17" textLength="1.38" lengthAdjust="spacingAndGlyphs" >0</text>
<line x1="366.00" y1="286.80" x2="367.50" y2="286.80" stroke="#555" stroke-width="0.8" />
<text x="365.2" y="287.92" font-size="3.1" text-anchor="end" fill="#111" stroke="#111" stroke-width="0.17" textLength="5.04" lengthAdjust="spacingAndGlyphs" >-500</text>
<line x1="464.6" y1="293.79999999999995" x2="539.3" y2="293.79999999999995" stroke="#666" stroke-width="1.1" stroke-dasharray="0.8 1.70"/>
<line x1="464.6" y1="293.79999999999995" x2="464.6" y2="219.4" stroke="#666" stroke-width="1.1" stroke-dasharray="0.8 1.70"/>
<line x1="474.60" y1="293.40" x2="474.60" y2="294.90" stroke="#555" stroke-width="0.8" />
<text x="474.6" y="299.02" font-size="3.1" text-anchor="middle" fill="#111" stroke="#111" stroke-width="0.17" textLength="1.38" lengthAdjust="spacingAndGlyphs" >0</text>
<line x1="497.50" y1="293.40" x2="497.50" y2="294.90" stroke="#555" stroke-width="0.8" />
<text x="497.5" y="299.02" font-size="3.1" text-anchor="middle" fill="#111" stroke="#111" stroke-width="0.17" textLength="3.9" lengthAdjust="spacingAndGlyphs" >10<tspan dy="-0.8" font-size="75%">3</tspan></text>
<line x1="515.60" y1="293.40" x2="515.60" y2="294.90" stroke="#555" stroke-width="0.8" />
<text x="515.6" y="299.02" font-size="3.1" text-anchor="middle" fill="#111" stroke="#111" stroke-width="0.17" textLength="3.9" lengthAdjust="spacingAndGlyphs" >10<tspan dy="-0.8" font-size="75%">4</tspan></text>
<line x1="532.40" y1="293.40" x2="532.40" y2="294.90" stroke="#555" stroke-width="0.8" />
<text x="532.4" y="299.02" font-size="3.1" text-anchor="middle" fill="#111" stroke="#111" stroke-width="0.17" textLength="3.9" lengthAdjust="spacingAndGlyphs" >10<tspan dy="-0.8" font-size="75%">5</tspan></text>
<line x1="463.50" y1="225.70" x2="465.00" y2="225.70" stroke="#555" stroke-width="0.8" />
<text x="462.7" y="226.82" font-size="3.1" text-anchor="end" fill="#111" stroke="#111" stroke-width="0.17" textLength="3.9" lengthAdjust="spacingAndGlyphs" >10<tspan dy="-0.8" font-size="75%">5</tspan></text>
<line x1="463.50" y1="241.90" x2="465.00" y2="241.90" stroke="#555" stroke-width="0.8" />
<text x="462.7" y="243.02" font-size="3.1" text-anchor="end" fill="#111" stroke="#111" stroke-width="0.17" textLength="3.9" lengthAdjust="spacingAndGlyphs" >10<tspan dy="-0.8" font-size="75%">4</tspan></text>
<line x1="463.50" y1="259.20" x2="465.00" y2="259.20" stroke="#555" stroke-width="0.8" />
<text x="462.7" y="260.32" font-size="3.1" text-anchor="end" fill="#111" stroke="#111" stroke-width="0.17" textLength="3.9" lengthAdjust="spacingAndGlyphs" >10<tspan dy="-0.8" font-size="75%">3</tspan></text>
<line x1="463.50" y1="276.90" x2="465.00" y2="276.90" stroke="#555" stroke-width="0.8" />
<text x="462.7" y="278.02" font-size="3.1" text-anchor="end" fill="#111" stroke="#111" stroke-width="0.17" textLength="3.9" lengthAdjust="spacingAndGlyphs" >10<tspan dy="-0.8" font-size="75%">2</tspan></text>
<line x1="463.50" y1="286.30" x2="465.00" y2="286.30" stroke="#555" stroke-width="0.8" />
<text x="462.7" y="287.42" font-size="3.1" text-anchor="end" fill="#111" stroke="#111" stroke-width="0.17" textLength="1.38" lengthAdjust="spacingAndGlyphs" >0</text>
</svg>
</body></html>
